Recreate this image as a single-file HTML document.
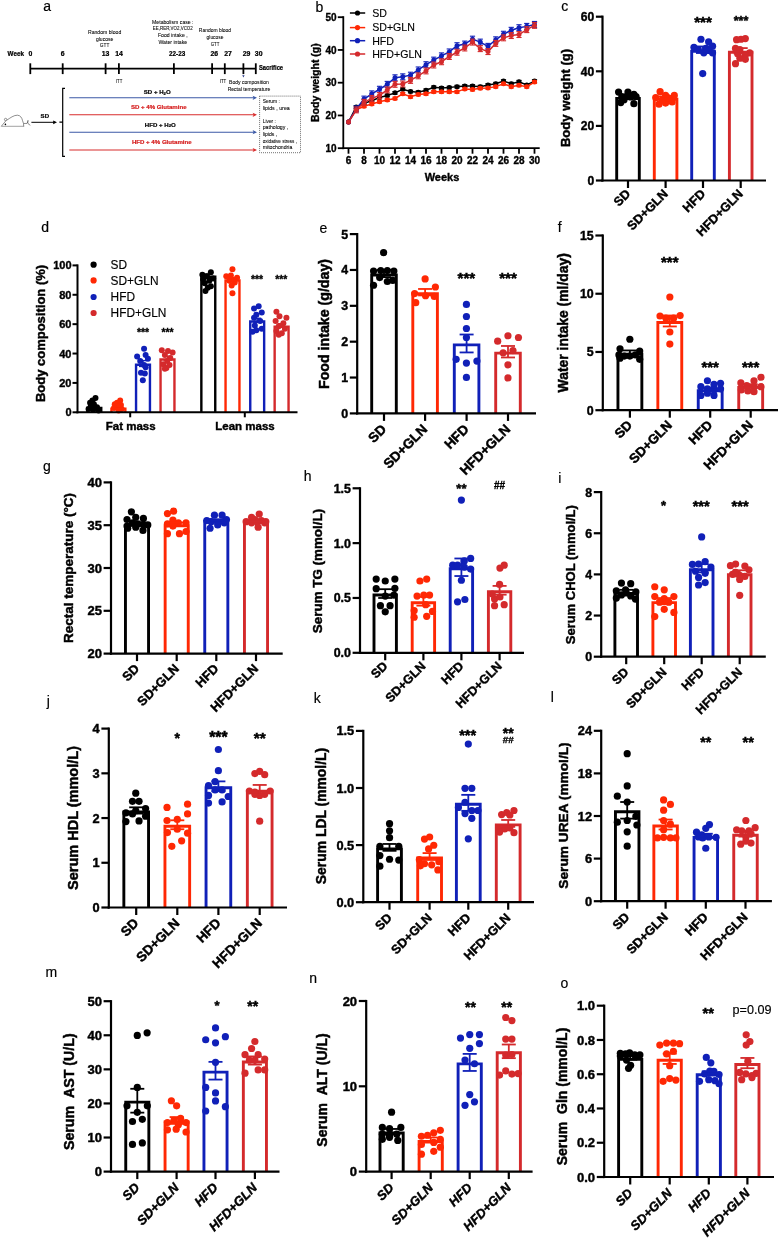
<!DOCTYPE html>
<html><head><meta charset="utf-8"><style>
html,body{margin:0;padding:0;background:#fff;}
svg{display:block;will-change:transform;}
text{font-family:"Liberation Sans",sans-serif;}
</style></head><body>
<svg width="778" height="1239" viewBox="0 0 778 1239">
<rect width="778" height="1239" fill="#fff"/>
<text x="47.20" y="10.60" font-size="14" stroke="#000" stroke-width="0.18" text-anchor="middle" fill="#000" >a</text>
<line x1="30.30" y1="68.70" x2="255.80" y2="68.70" stroke="#000" stroke-width="1.8" />
<line x1="30.30" y1="63.30" x2="30.30" y2="74.10" stroke="#000" stroke-width="1.8" />
<line x1="62.70" y1="63.30" x2="62.70" y2="74.10" stroke="#000" stroke-width="1.8" />
<line x1="105.60" y1="63.30" x2="105.60" y2="74.10" stroke="#000" stroke-width="1.8" />
<line x1="118.90" y1="63.30" x2="118.90" y2="74.10" stroke="#000" stroke-width="1.8" />
<line x1="173.90" y1="63.30" x2="173.90" y2="74.10" stroke="#000" stroke-width="1.8" />
<line x1="212.10" y1="63.30" x2="212.10" y2="74.10" stroke="#000" stroke-width="1.8" />
<line x1="224.80" y1="63.30" x2="224.80" y2="74.10" stroke="#000" stroke-width="1.8" />
<line x1="243.40" y1="63.30" x2="243.40" y2="74.10" stroke="#000" stroke-width="1.8" />
<line x1="255.80" y1="63.30" x2="255.80" y2="74.10" stroke="#000" stroke-width="1.8" />
<text x="15.75" y="56.40" font-size="7.2" font-weight="bold" stroke="#000" stroke-width="0.24" textLength="16.3" lengthAdjust="spacingAndGlyphs" text-anchor="middle" fill="#000" >Week</text>
<text x="30.30" y="56.40" font-size="6.9" font-weight="bold" stroke="#000" stroke-width="0.23" text-anchor="middle" fill="#000" >0</text>
<text x="62.70" y="56.40" font-size="6.9" font-weight="bold" stroke="#000" stroke-width="0.23" text-anchor="middle" fill="#000" >6</text>
<text x="105.60" y="56.40" font-size="6.9" font-weight="bold" stroke="#000" stroke-width="0.23" text-anchor="middle" fill="#000" >13</text>
<text x="119.10" y="56.40" font-size="6.9" font-weight="bold" stroke="#000" stroke-width="0.23" text-anchor="middle" fill="#000" >14</text>
<text x="214.30" y="56.40" font-size="6.9" font-weight="bold" stroke="#000" stroke-width="0.23" text-anchor="middle" fill="#000" >26</text>
<text x="228.00" y="56.40" font-size="6.9" font-weight="bold" stroke="#000" stroke-width="0.23" text-anchor="middle" fill="#000" >27</text>
<text x="246.60" y="56.40" font-size="6.9" font-weight="bold" stroke="#000" stroke-width="0.23" text-anchor="middle" fill="#000" >29</text>
<text x="258.70" y="56.40" font-size="6.9" font-weight="bold" stroke="#000" stroke-width="0.23" text-anchor="middle" fill="#000" >30</text>
<text x="177.10" y="56.40" font-size="6.9" font-weight="bold" stroke="#000" stroke-width="0.23" textLength="16.2" lengthAdjust="spacingAndGlyphs" text-anchor="middle" fill="#000" >22-23</text>
<text x="271.00" y="70.20" font-size="6.9" font-weight="bold" stroke="#000" stroke-width="0.23" textLength="24.2" lengthAdjust="spacingAndGlyphs" text-anchor="middle" fill="#000" >Sacrifice</text>
<text x="104.60" y="33.70" font-size="5.8" stroke="#000" stroke-width="0.07" textLength="33.3" lengthAdjust="spacingAndGlyphs" text-anchor="middle" fill="#000" >Random blood</text>
<text x="104.60" y="40.50" font-size="5.8" stroke="#000" stroke-width="0.07" textLength="17.3" lengthAdjust="spacingAndGlyphs" text-anchor="middle" fill="#000" >glucose</text>
<text x="104.60" y="47.20" font-size="5.8" stroke="#000" stroke-width="0.07" textLength="9.6" lengthAdjust="spacingAndGlyphs" text-anchor="middle" fill="#000" >GTT</text>
<text x="215.00" y="32.40" font-size="5.8" stroke="#000" stroke-width="0.07" textLength="32.3" lengthAdjust="spacingAndGlyphs" text-anchor="middle" fill="#000" >Random blood</text>
<text x="215.00" y="39.40" font-size="5.8" stroke="#000" stroke-width="0.07" textLength="16.8" lengthAdjust="spacingAndGlyphs" text-anchor="middle" fill="#000" >glucose</text>
<text x="215.00" y="46.20" font-size="5.8" stroke="#000" stroke-width="0.07" textLength="8.7" lengthAdjust="spacingAndGlyphs" text-anchor="middle" fill="#000" >GTT</text>
<text x="172.80" y="23.70" font-size="5.8" stroke="#000" stroke-width="0.07" textLength="41.5" lengthAdjust="spacingAndGlyphs" text-anchor="middle" fill="#000" >Metabolism case :</text>
<text x="172.80" y="30.20" font-size="5.8" stroke="#000" stroke-width="0.07" textLength="40" lengthAdjust="spacingAndGlyphs" text-anchor="middle" fill="#000" >EE,RER,VO2,VCO2</text>
<text x="172.80" y="36.80" font-size="5.8" stroke="#000" stroke-width="0.07" textLength="29.7" lengthAdjust="spacingAndGlyphs" text-anchor="middle" fill="#000" >Food intake ,</text>
<text x="172.80" y="43.80" font-size="5.8" stroke="#000" stroke-width="0.07" textLength="28.8" lengthAdjust="spacingAndGlyphs" text-anchor="middle" fill="#000" >Water intake</text>
<text x="119.10" y="83.20" font-size="5.8" stroke="#000" stroke-width="0.07" textLength="6.4" lengthAdjust="spacingAndGlyphs" text-anchor="middle" fill="#000" >ITT</text>
<text x="223.00" y="82.80" font-size="5.8" stroke="#000" stroke-width="0.07" textLength="6.6" lengthAdjust="spacingAndGlyphs" text-anchor="middle" fill="#000" >ITT</text>
<text x="249.00" y="83.80" font-size="5.8" stroke="#000" stroke-width="0.07" textLength="39.8" lengthAdjust="spacingAndGlyphs" text-anchor="middle" fill="#000" >Body composition</text>
<text x="249.00" y="90.70" font-size="5.8" stroke="#000" stroke-width="0.07" textLength="42.6" lengthAdjust="spacingAndGlyphs" text-anchor="middle" fill="#000" >Rectal temperature</text>
<path d="M242.2 75.2 L244.6 75.2 L243.4 77.6 Z" fill="#2b3a8a"/>
<path d="M65 88.4 L62.7 88.4 L62.7 156.3 L65 156.3 M62.7 122.2 L59.4 122.2" fill="none" stroke="#000" stroke-width="1.2"/>
<line x1="69.30" y1="97.80" x2="254.00" y2="97.80" stroke="#3b59a6" stroke-width="1.05" />
<path d="M257 97.8 L252.6 95.7 L253.6 97.8 L252.6 99.89999999999999 Z" fill="#3b59a6"/>
<line x1="69.30" y1="114.80" x2="254.00" y2="114.80" stroke="#d82c2c" stroke-width="1.05" />
<path d="M257 114.8 L252.6 112.7 L253.6 114.8 L252.6 116.89999999999999 Z" fill="#d82c2c"/>
<line x1="69.30" y1="132.20" x2="254.00" y2="132.20" stroke="#3b59a6" stroke-width="1.05" />
<path d="M257 132.2 L252.6 130.1 L253.6 132.2 L252.6 134.29999999999998 Z" fill="#3b59a6"/>
<line x1="69.30" y1="150.00" x2="254.00" y2="150.00" stroke="#d82c2c" stroke-width="1.05" />
<path d="M257 150.0 L252.6 147.9 L253.6 150.0 L252.6 152.1 Z" fill="#d82c2c"/>
<text x="157.20" y="94.00" font-size="6.1" font-weight="bold" stroke="#000" stroke-width="0.20" text-anchor="middle" fill="#000" >SD + H<tspan font-size="4.2" dy="0.6">2</tspan><tspan dy="-0.6">O</tspan></text>
<text x="158.75" y="109.30" font-size="6.1" font-weight="bold" stroke="#d62020" stroke-width="0.20" text-anchor="middle" fill="#d62020" >SD + 4% Glutamine</text>
<text x="160.30" y="126.60" font-size="6.1" font-weight="bold" stroke="#000" stroke-width="0.20" text-anchor="middle" fill="#000" >HFD + H<tspan font-size="4.2" dy="0.6">2</tspan><tspan dy="-0.6">O</tspan></text>
<text x="161.80" y="144.10" font-size="6.1" font-weight="bold" stroke="#d62020" stroke-width="0.20" text-anchor="middle" fill="#d62020" >HFD + 4% Glutamine</text>
<line x1="31.40" y1="122.30" x2="54.50" y2="122.30" stroke="#000" stroke-width="1.0" />
<path d="M57 122.3 L53.2 120.4 L53.2 124.2 Z" fill="#000"/>
<text x="44.80" y="117.60" font-size="6.1" font-weight="bold" stroke="#000" stroke-width="0.20" text-anchor="middle" fill="#000" >SD</text>
<path d="M1.3 126.3 L24.2 126.3" stroke="#999" stroke-width="0.9"/>
<path d="M1.3 126.3 L6 120.6 M6.8 120.2 C10 118 14 115 17.5 115.2 C20.5 115.4 22 118 22.5 120.5 L23.5 123.5 L23.7 126.3 M23.7 123.5 L27 123.4 Q28.6 121 28 120.4 Q27.1 121 28 123.6 L30.3 125.3" fill="none" stroke="#333" stroke-width="0.55"/>
<circle cx="5.6" cy="119.5" r="1.2" fill="none" stroke="#333" stroke-width="0.5"/>
<circle cx="5.40" cy="124.40" r="0.8" fill="#000"/>
<rect x="259.6" y="96.1" width="40.9" height="56.6" fill="none" stroke="#333" stroke-width="0.7" stroke-dasharray="1,1"/>
<text x="262.70" y="103.40" font-size="5.5" stroke="#000" stroke-width="0.07" textLength="17.3" lengthAdjust="spacingAndGlyphs" text-anchor="start" fill="#000" >Serum :</text>
<text x="262.70" y="109.50" font-size="5.5" stroke="#000" stroke-width="0.07" textLength="27.1" lengthAdjust="spacingAndGlyphs" text-anchor="start" fill="#000" >lipids , urea</text>
<text x="262.70" y="122.70" font-size="5.5" stroke="#000" stroke-width="0.07" textLength="13.2" lengthAdjust="spacingAndGlyphs" text-anchor="start" fill="#000" >Liver :</text>
<text x="262.70" y="129.10" font-size="5.5" stroke="#000" stroke-width="0.07" textLength="25.5" lengthAdjust="spacingAndGlyphs" text-anchor="start" fill="#000" >pathology ,</text>
<text x="262.70" y="135.90" font-size="5.5" stroke="#000" stroke-width="0.07" textLength="14.4" lengthAdjust="spacingAndGlyphs" text-anchor="start" fill="#000" >lipids ,</text>
<text x="262.70" y="142.60" font-size="5.5" stroke="#000" stroke-width="0.07" textLength="34.3" lengthAdjust="spacingAndGlyphs" text-anchor="start" fill="#000" >oxidative stress ,</text>
<text x="262.70" y="149.40" font-size="5.5" stroke="#000" stroke-width="0.07" textLength="29.6" lengthAdjust="spacingAndGlyphs" text-anchor="start" fill="#000" >mitochondria</text>
<polyline points="348.50,122.00 356.25,106.93 364.00,103.33 371.75,100.71 379.50,97.44 387.25,95.47 395.00,92.85 402.75,89.25 410.50,91.54 418.25,92.20 426.00,90.23 433.75,87.28 441.50,87.94 449.25,87.61 457.00,86.63 464.75,85.97 472.50,85.97 480.25,86.63 488.00,84.99 495.75,83.68 503.50,81.06 511.25,83.68 519.00,81.72 526.75,84.99 534.50,81.06" fill="none" stroke="#000000" stroke-width="1.5"/>
<line x1="356.25" y1="105.62" x2="356.25" y2="108.24" stroke="#000000" stroke-width="1.1" />
<line x1="353.65" y1="105.62" x2="358.85" y2="105.62" stroke="#000000" stroke-width="1.1" />
<line x1="353.65" y1="108.24" x2="358.85" y2="108.24" stroke="#000000" stroke-width="1.1" />
<line x1="364.00" y1="102.02" x2="364.00" y2="104.64" stroke="#000000" stroke-width="1.1" />
<line x1="361.40" y1="102.02" x2="366.60" y2="102.02" stroke="#000000" stroke-width="1.1" />
<line x1="361.40" y1="104.64" x2="366.60" y2="104.64" stroke="#000000" stroke-width="1.1" />
<line x1="371.75" y1="99.40" x2="371.75" y2="102.02" stroke="#000000" stroke-width="1.1" />
<line x1="369.15" y1="99.40" x2="374.35" y2="99.40" stroke="#000000" stroke-width="1.1" />
<line x1="369.15" y1="102.02" x2="374.35" y2="102.02" stroke="#000000" stroke-width="1.1" />
<line x1="379.50" y1="96.13" x2="379.50" y2="98.75" stroke="#000000" stroke-width="1.1" />
<line x1="376.90" y1="96.13" x2="382.10" y2="96.13" stroke="#000000" stroke-width="1.1" />
<line x1="376.90" y1="98.75" x2="382.10" y2="98.75" stroke="#000000" stroke-width="1.1" />
<line x1="387.25" y1="94.16" x2="387.25" y2="96.78" stroke="#000000" stroke-width="1.1" />
<line x1="384.65" y1="94.16" x2="389.85" y2="94.16" stroke="#000000" stroke-width="1.1" />
<line x1="384.65" y1="96.78" x2="389.85" y2="96.78" stroke="#000000" stroke-width="1.1" />
<line x1="395.00" y1="91.54" x2="395.00" y2="94.16" stroke="#000000" stroke-width="1.1" />
<line x1="392.40" y1="91.54" x2="397.60" y2="91.54" stroke="#000000" stroke-width="1.1" />
<line x1="392.40" y1="94.16" x2="397.60" y2="94.16" stroke="#000000" stroke-width="1.1" />
<line x1="402.75" y1="87.94" x2="402.75" y2="90.56" stroke="#000000" stroke-width="1.1" />
<line x1="400.15" y1="87.94" x2="405.35" y2="87.94" stroke="#000000" stroke-width="1.1" />
<line x1="400.15" y1="90.56" x2="405.35" y2="90.56" stroke="#000000" stroke-width="1.1" />
<line x1="410.50" y1="90.23" x2="410.50" y2="92.85" stroke="#000000" stroke-width="1.1" />
<line x1="407.90" y1="90.23" x2="413.10" y2="90.23" stroke="#000000" stroke-width="1.1" />
<line x1="407.90" y1="92.85" x2="413.10" y2="92.85" stroke="#000000" stroke-width="1.1" />
<line x1="418.25" y1="90.89" x2="418.25" y2="93.51" stroke="#000000" stroke-width="1.1" />
<line x1="415.65" y1="90.89" x2="420.85" y2="90.89" stroke="#000000" stroke-width="1.1" />
<line x1="415.65" y1="93.51" x2="420.85" y2="93.51" stroke="#000000" stroke-width="1.1" />
<line x1="426.00" y1="88.92" x2="426.00" y2="91.54" stroke="#000000" stroke-width="1.1" />
<line x1="423.40" y1="88.92" x2="428.60" y2="88.92" stroke="#000000" stroke-width="1.1" />
<line x1="423.40" y1="91.54" x2="428.60" y2="91.54" stroke="#000000" stroke-width="1.1" />
<line x1="433.75" y1="85.97" x2="433.75" y2="88.59" stroke="#000000" stroke-width="1.1" />
<line x1="431.15" y1="85.97" x2="436.35" y2="85.97" stroke="#000000" stroke-width="1.1" />
<line x1="431.15" y1="88.59" x2="436.35" y2="88.59" stroke="#000000" stroke-width="1.1" />
<line x1="441.50" y1="86.63" x2="441.50" y2="89.25" stroke="#000000" stroke-width="1.1" />
<line x1="438.90" y1="86.63" x2="444.10" y2="86.63" stroke="#000000" stroke-width="1.1" />
<line x1="438.90" y1="89.25" x2="444.10" y2="89.25" stroke="#000000" stroke-width="1.1" />
<line x1="449.25" y1="86.30" x2="449.25" y2="88.92" stroke="#000000" stroke-width="1.1" />
<line x1="446.65" y1="86.30" x2="451.85" y2="86.30" stroke="#000000" stroke-width="1.1" />
<line x1="446.65" y1="88.92" x2="451.85" y2="88.92" stroke="#000000" stroke-width="1.1" />
<line x1="457.00" y1="85.32" x2="457.00" y2="87.94" stroke="#000000" stroke-width="1.1" />
<line x1="454.40" y1="85.32" x2="459.60" y2="85.32" stroke="#000000" stroke-width="1.1" />
<line x1="454.40" y1="87.94" x2="459.60" y2="87.94" stroke="#000000" stroke-width="1.1" />
<line x1="464.75" y1="84.66" x2="464.75" y2="87.28" stroke="#000000" stroke-width="1.1" />
<line x1="462.15" y1="84.66" x2="467.35" y2="84.66" stroke="#000000" stroke-width="1.1" />
<line x1="462.15" y1="87.28" x2="467.35" y2="87.28" stroke="#000000" stroke-width="1.1" />
<line x1="472.50" y1="84.66" x2="472.50" y2="87.28" stroke="#000000" stroke-width="1.1" />
<line x1="469.90" y1="84.66" x2="475.10" y2="84.66" stroke="#000000" stroke-width="1.1" />
<line x1="469.90" y1="87.28" x2="475.10" y2="87.28" stroke="#000000" stroke-width="1.1" />
<line x1="480.25" y1="85.32" x2="480.25" y2="87.94" stroke="#000000" stroke-width="1.1" />
<line x1="477.65" y1="85.32" x2="482.85" y2="85.32" stroke="#000000" stroke-width="1.1" />
<line x1="477.65" y1="87.94" x2="482.85" y2="87.94" stroke="#000000" stroke-width="1.1" />
<line x1="488.00" y1="83.68" x2="488.00" y2="86.30" stroke="#000000" stroke-width="1.1" />
<line x1="485.40" y1="83.68" x2="490.60" y2="83.68" stroke="#000000" stroke-width="1.1" />
<line x1="485.40" y1="86.30" x2="490.60" y2="86.30" stroke="#000000" stroke-width="1.1" />
<line x1="495.75" y1="82.37" x2="495.75" y2="84.99" stroke="#000000" stroke-width="1.1" />
<line x1="493.15" y1="82.37" x2="498.35" y2="82.37" stroke="#000000" stroke-width="1.1" />
<line x1="493.15" y1="84.99" x2="498.35" y2="84.99" stroke="#000000" stroke-width="1.1" />
<line x1="503.50" y1="79.75" x2="503.50" y2="82.37" stroke="#000000" stroke-width="1.1" />
<line x1="500.90" y1="79.75" x2="506.10" y2="79.75" stroke="#000000" stroke-width="1.1" />
<line x1="500.90" y1="82.37" x2="506.10" y2="82.37" stroke="#000000" stroke-width="1.1" />
<line x1="511.25" y1="82.37" x2="511.25" y2="84.99" stroke="#000000" stroke-width="1.1" />
<line x1="508.65" y1="82.37" x2="513.85" y2="82.37" stroke="#000000" stroke-width="1.1" />
<line x1="508.65" y1="84.99" x2="513.85" y2="84.99" stroke="#000000" stroke-width="1.1" />
<line x1="519.00" y1="80.41" x2="519.00" y2="83.03" stroke="#000000" stroke-width="1.1" />
<line x1="516.40" y1="80.41" x2="521.60" y2="80.41" stroke="#000000" stroke-width="1.1" />
<line x1="516.40" y1="83.03" x2="521.60" y2="83.03" stroke="#000000" stroke-width="1.1" />
<line x1="526.75" y1="83.68" x2="526.75" y2="86.30" stroke="#000000" stroke-width="1.1" />
<line x1="524.15" y1="83.68" x2="529.35" y2="83.68" stroke="#000000" stroke-width="1.1" />
<line x1="524.15" y1="86.30" x2="529.35" y2="86.30" stroke="#000000" stroke-width="1.1" />
<line x1="534.50" y1="79.75" x2="534.50" y2="82.37" stroke="#000000" stroke-width="1.1" />
<line x1="531.90" y1="79.75" x2="537.10" y2="79.75" stroke="#000000" stroke-width="1.1" />
<line x1="531.90" y1="82.37" x2="537.10" y2="82.37" stroke="#000000" stroke-width="1.1" />
<circle cx="348.50" cy="122.00" r="2.5" fill="#000000"/>
<circle cx="356.25" cy="106.93" r="2.5" fill="#000000"/>
<circle cx="364.00" cy="103.33" r="2.5" fill="#000000"/>
<circle cx="371.75" cy="100.71" r="2.5" fill="#000000"/>
<circle cx="379.50" cy="97.44" r="2.5" fill="#000000"/>
<circle cx="387.25" cy="95.47" r="2.5" fill="#000000"/>
<circle cx="395.00" cy="92.85" r="2.5" fill="#000000"/>
<circle cx="402.75" cy="89.25" r="2.5" fill="#000000"/>
<circle cx="410.50" cy="91.54" r="2.5" fill="#000000"/>
<circle cx="418.25" cy="92.20" r="2.5" fill="#000000"/>
<circle cx="426.00" cy="90.23" r="2.5" fill="#000000"/>
<circle cx="433.75" cy="87.28" r="2.5" fill="#000000"/>
<circle cx="441.50" cy="87.94" r="2.5" fill="#000000"/>
<circle cx="449.25" cy="87.61" r="2.5" fill="#000000"/>
<circle cx="457.00" cy="86.63" r="2.5" fill="#000000"/>
<circle cx="464.75" cy="85.97" r="2.5" fill="#000000"/>
<circle cx="472.50" cy="85.97" r="2.5" fill="#000000"/>
<circle cx="480.25" cy="86.63" r="2.5" fill="#000000"/>
<circle cx="488.00" cy="84.99" r="2.5" fill="#000000"/>
<circle cx="495.75" cy="83.68" r="2.5" fill="#000000"/>
<circle cx="503.50" cy="81.06" r="2.5" fill="#000000"/>
<circle cx="511.25" cy="83.68" r="2.5" fill="#000000"/>
<circle cx="519.00" cy="81.72" r="2.5" fill="#000000"/>
<circle cx="526.75" cy="84.99" r="2.5" fill="#000000"/>
<circle cx="534.50" cy="81.06" r="2.5" fill="#000000"/>
<polyline points="348.50,122.00 356.25,109.88 364.00,106.28 371.75,103.99 379.50,101.69 387.25,100.06 395.00,98.42 402.75,93.83 410.50,96.78 418.25,94.49 426.00,93.83 433.75,91.87 441.50,91.87 449.25,91.87 457.00,91.87 464.75,88.92 472.50,89.58 480.25,88.27 488.00,87.94 495.75,86.63 503.50,83.68 511.25,86.63 519.00,85.32 526.75,86.63 534.50,82.04" fill="none" stroke="#ff2804" stroke-width="1.5"/>
<line x1="356.25" y1="108.57" x2="356.25" y2="111.19" stroke="#ff2804" stroke-width="1.1" />
<line x1="353.65" y1="108.57" x2="358.85" y2="108.57" stroke="#ff2804" stroke-width="1.1" />
<line x1="353.65" y1="111.19" x2="358.85" y2="111.19" stroke="#ff2804" stroke-width="1.1" />
<line x1="364.00" y1="104.97" x2="364.00" y2="107.59" stroke="#ff2804" stroke-width="1.1" />
<line x1="361.40" y1="104.97" x2="366.60" y2="104.97" stroke="#ff2804" stroke-width="1.1" />
<line x1="361.40" y1="107.59" x2="366.60" y2="107.59" stroke="#ff2804" stroke-width="1.1" />
<line x1="371.75" y1="102.68" x2="371.75" y2="105.30" stroke="#ff2804" stroke-width="1.1" />
<line x1="369.15" y1="102.68" x2="374.35" y2="102.68" stroke="#ff2804" stroke-width="1.1" />
<line x1="369.15" y1="105.30" x2="374.35" y2="105.30" stroke="#ff2804" stroke-width="1.1" />
<line x1="379.50" y1="100.38" x2="379.50" y2="103.00" stroke="#ff2804" stroke-width="1.1" />
<line x1="376.90" y1="100.38" x2="382.10" y2="100.38" stroke="#ff2804" stroke-width="1.1" />
<line x1="376.90" y1="103.00" x2="382.10" y2="103.00" stroke="#ff2804" stroke-width="1.1" />
<line x1="387.25" y1="98.75" x2="387.25" y2="101.37" stroke="#ff2804" stroke-width="1.1" />
<line x1="384.65" y1="98.75" x2="389.85" y2="98.75" stroke="#ff2804" stroke-width="1.1" />
<line x1="384.65" y1="101.37" x2="389.85" y2="101.37" stroke="#ff2804" stroke-width="1.1" />
<line x1="395.00" y1="97.11" x2="395.00" y2="99.73" stroke="#ff2804" stroke-width="1.1" />
<line x1="392.40" y1="97.11" x2="397.60" y2="97.11" stroke="#ff2804" stroke-width="1.1" />
<line x1="392.40" y1="99.73" x2="397.60" y2="99.73" stroke="#ff2804" stroke-width="1.1" />
<line x1="402.75" y1="92.52" x2="402.75" y2="95.14" stroke="#ff2804" stroke-width="1.1" />
<line x1="400.15" y1="92.52" x2="405.35" y2="92.52" stroke="#ff2804" stroke-width="1.1" />
<line x1="400.15" y1="95.14" x2="405.35" y2="95.14" stroke="#ff2804" stroke-width="1.1" />
<line x1="410.50" y1="95.47" x2="410.50" y2="98.09" stroke="#ff2804" stroke-width="1.1" />
<line x1="407.90" y1="95.47" x2="413.10" y2="95.47" stroke="#ff2804" stroke-width="1.1" />
<line x1="407.90" y1="98.09" x2="413.10" y2="98.09" stroke="#ff2804" stroke-width="1.1" />
<line x1="418.25" y1="93.18" x2="418.25" y2="95.80" stroke="#ff2804" stroke-width="1.1" />
<line x1="415.65" y1="93.18" x2="420.85" y2="93.18" stroke="#ff2804" stroke-width="1.1" />
<line x1="415.65" y1="95.80" x2="420.85" y2="95.80" stroke="#ff2804" stroke-width="1.1" />
<line x1="426.00" y1="92.52" x2="426.00" y2="95.14" stroke="#ff2804" stroke-width="1.1" />
<line x1="423.40" y1="92.52" x2="428.60" y2="92.52" stroke="#ff2804" stroke-width="1.1" />
<line x1="423.40" y1="95.14" x2="428.60" y2="95.14" stroke="#ff2804" stroke-width="1.1" />
<line x1="433.75" y1="90.56" x2="433.75" y2="93.18" stroke="#ff2804" stroke-width="1.1" />
<line x1="431.15" y1="90.56" x2="436.35" y2="90.56" stroke="#ff2804" stroke-width="1.1" />
<line x1="431.15" y1="93.18" x2="436.35" y2="93.18" stroke="#ff2804" stroke-width="1.1" />
<line x1="441.50" y1="90.56" x2="441.50" y2="93.18" stroke="#ff2804" stroke-width="1.1" />
<line x1="438.90" y1="90.56" x2="444.10" y2="90.56" stroke="#ff2804" stroke-width="1.1" />
<line x1="438.90" y1="93.18" x2="444.10" y2="93.18" stroke="#ff2804" stroke-width="1.1" />
<line x1="449.25" y1="90.56" x2="449.25" y2="93.18" stroke="#ff2804" stroke-width="1.1" />
<line x1="446.65" y1="90.56" x2="451.85" y2="90.56" stroke="#ff2804" stroke-width="1.1" />
<line x1="446.65" y1="93.18" x2="451.85" y2="93.18" stroke="#ff2804" stroke-width="1.1" />
<line x1="457.00" y1="90.56" x2="457.00" y2="93.18" stroke="#ff2804" stroke-width="1.1" />
<line x1="454.40" y1="90.56" x2="459.60" y2="90.56" stroke="#ff2804" stroke-width="1.1" />
<line x1="454.40" y1="93.18" x2="459.60" y2="93.18" stroke="#ff2804" stroke-width="1.1" />
<line x1="464.75" y1="87.61" x2="464.75" y2="90.23" stroke="#ff2804" stroke-width="1.1" />
<line x1="462.15" y1="87.61" x2="467.35" y2="87.61" stroke="#ff2804" stroke-width="1.1" />
<line x1="462.15" y1="90.23" x2="467.35" y2="90.23" stroke="#ff2804" stroke-width="1.1" />
<line x1="472.50" y1="88.27" x2="472.50" y2="90.89" stroke="#ff2804" stroke-width="1.1" />
<line x1="469.90" y1="88.27" x2="475.10" y2="88.27" stroke="#ff2804" stroke-width="1.1" />
<line x1="469.90" y1="90.89" x2="475.10" y2="90.89" stroke="#ff2804" stroke-width="1.1" />
<line x1="480.25" y1="86.96" x2="480.25" y2="89.58" stroke="#ff2804" stroke-width="1.1" />
<line x1="477.65" y1="86.96" x2="482.85" y2="86.96" stroke="#ff2804" stroke-width="1.1" />
<line x1="477.65" y1="89.58" x2="482.85" y2="89.58" stroke="#ff2804" stroke-width="1.1" />
<line x1="488.00" y1="86.63" x2="488.00" y2="89.25" stroke="#ff2804" stroke-width="1.1" />
<line x1="485.40" y1="86.63" x2="490.60" y2="86.63" stroke="#ff2804" stroke-width="1.1" />
<line x1="485.40" y1="89.25" x2="490.60" y2="89.25" stroke="#ff2804" stroke-width="1.1" />
<line x1="495.75" y1="85.32" x2="495.75" y2="87.94" stroke="#ff2804" stroke-width="1.1" />
<line x1="493.15" y1="85.32" x2="498.35" y2="85.32" stroke="#ff2804" stroke-width="1.1" />
<line x1="493.15" y1="87.94" x2="498.35" y2="87.94" stroke="#ff2804" stroke-width="1.1" />
<line x1="503.50" y1="82.37" x2="503.50" y2="84.99" stroke="#ff2804" stroke-width="1.1" />
<line x1="500.90" y1="82.37" x2="506.10" y2="82.37" stroke="#ff2804" stroke-width="1.1" />
<line x1="500.90" y1="84.99" x2="506.10" y2="84.99" stroke="#ff2804" stroke-width="1.1" />
<line x1="511.25" y1="85.32" x2="511.25" y2="87.94" stroke="#ff2804" stroke-width="1.1" />
<line x1="508.65" y1="85.32" x2="513.85" y2="85.32" stroke="#ff2804" stroke-width="1.1" />
<line x1="508.65" y1="87.94" x2="513.85" y2="87.94" stroke="#ff2804" stroke-width="1.1" />
<line x1="519.00" y1="84.01" x2="519.00" y2="86.63" stroke="#ff2804" stroke-width="1.1" />
<line x1="516.40" y1="84.01" x2="521.60" y2="84.01" stroke="#ff2804" stroke-width="1.1" />
<line x1="516.40" y1="86.63" x2="521.60" y2="86.63" stroke="#ff2804" stroke-width="1.1" />
<line x1="526.75" y1="85.32" x2="526.75" y2="87.94" stroke="#ff2804" stroke-width="1.1" />
<line x1="524.15" y1="85.32" x2="529.35" y2="85.32" stroke="#ff2804" stroke-width="1.1" />
<line x1="524.15" y1="87.94" x2="529.35" y2="87.94" stroke="#ff2804" stroke-width="1.1" />
<line x1="534.50" y1="80.73" x2="534.50" y2="83.35" stroke="#ff2804" stroke-width="1.1" />
<line x1="531.90" y1="80.73" x2="537.10" y2="80.73" stroke="#ff2804" stroke-width="1.1" />
<line x1="531.90" y1="83.35" x2="537.10" y2="83.35" stroke="#ff2804" stroke-width="1.1" />
<circle cx="348.50" cy="122.00" r="2.5" fill="#ff2804"/>
<circle cx="356.25" cy="109.88" r="2.5" fill="#ff2804"/>
<circle cx="364.00" cy="106.28" r="2.5" fill="#ff2804"/>
<circle cx="371.75" cy="103.99" r="2.5" fill="#ff2804"/>
<circle cx="379.50" cy="101.69" r="2.5" fill="#ff2804"/>
<circle cx="387.25" cy="100.06" r="2.5" fill="#ff2804"/>
<circle cx="395.00" cy="98.42" r="2.5" fill="#ff2804"/>
<circle cx="402.75" cy="93.83" r="2.5" fill="#ff2804"/>
<circle cx="410.50" cy="96.78" r="2.5" fill="#ff2804"/>
<circle cx="418.25" cy="94.49" r="2.5" fill="#ff2804"/>
<circle cx="426.00" cy="93.83" r="2.5" fill="#ff2804"/>
<circle cx="433.75" cy="91.87" r="2.5" fill="#ff2804"/>
<circle cx="441.50" cy="91.87" r="2.5" fill="#ff2804"/>
<circle cx="449.25" cy="91.87" r="2.5" fill="#ff2804"/>
<circle cx="457.00" cy="91.87" r="2.5" fill="#ff2804"/>
<circle cx="464.75" cy="88.92" r="2.5" fill="#ff2804"/>
<circle cx="472.50" cy="89.58" r="2.5" fill="#ff2804"/>
<circle cx="480.25" cy="88.27" r="2.5" fill="#ff2804"/>
<circle cx="488.00" cy="87.94" r="2.5" fill="#ff2804"/>
<circle cx="495.75" cy="86.63" r="2.5" fill="#ff2804"/>
<circle cx="503.50" cy="83.68" r="2.5" fill="#ff2804"/>
<circle cx="511.25" cy="86.63" r="2.5" fill="#ff2804"/>
<circle cx="519.00" cy="85.32" r="2.5" fill="#ff2804"/>
<circle cx="526.75" cy="86.63" r="2.5" fill="#ff2804"/>
<circle cx="534.50" cy="82.04" r="2.5" fill="#ff2804"/>
<polyline points="348.50,122.00 356.25,108.90 364.00,99.07 371.75,93.83 379.50,89.25 387.25,84.34 395.00,77.79 402.75,76.80 410.50,75.17 418.25,69.93 426.00,64.69 433.75,60.10 441.50,55.84 449.25,51.91 457.00,45.69 464.75,44.05 472.50,39.14 480.25,42.09 488.00,46.35 495.75,39.80 503.50,34.23 511.25,30.30 519.00,27.68 526.75,26.37 534.50,24.41" fill="none" stroke="#1020b8" stroke-width="1.5"/>
<line x1="356.25" y1="105.95" x2="356.25" y2="111.85" stroke="#1020b8" stroke-width="1.1" />
<line x1="353.65" y1="105.95" x2="358.85" y2="105.95" stroke="#1020b8" stroke-width="1.1" />
<line x1="353.65" y1="111.85" x2="358.85" y2="111.85" stroke="#1020b8" stroke-width="1.1" />
<line x1="364.00" y1="96.13" x2="364.00" y2="102.02" stroke="#1020b8" stroke-width="1.1" />
<line x1="361.40" y1="96.13" x2="366.60" y2="96.13" stroke="#1020b8" stroke-width="1.1" />
<line x1="361.40" y1="102.02" x2="366.60" y2="102.02" stroke="#1020b8" stroke-width="1.1" />
<line x1="371.75" y1="90.89" x2="371.75" y2="96.78" stroke="#1020b8" stroke-width="1.1" />
<line x1="369.15" y1="90.89" x2="374.35" y2="90.89" stroke="#1020b8" stroke-width="1.1" />
<line x1="369.15" y1="96.78" x2="374.35" y2="96.78" stroke="#1020b8" stroke-width="1.1" />
<line x1="379.50" y1="86.30" x2="379.50" y2="92.20" stroke="#1020b8" stroke-width="1.1" />
<line x1="376.90" y1="86.30" x2="382.10" y2="86.30" stroke="#1020b8" stroke-width="1.1" />
<line x1="376.90" y1="92.20" x2="382.10" y2="92.20" stroke="#1020b8" stroke-width="1.1" />
<line x1="387.25" y1="81.39" x2="387.25" y2="87.28" stroke="#1020b8" stroke-width="1.1" />
<line x1="384.65" y1="81.39" x2="389.85" y2="81.39" stroke="#1020b8" stroke-width="1.1" />
<line x1="384.65" y1="87.28" x2="389.85" y2="87.28" stroke="#1020b8" stroke-width="1.1" />
<line x1="395.00" y1="74.84" x2="395.00" y2="80.73" stroke="#1020b8" stroke-width="1.1" />
<line x1="392.40" y1="74.84" x2="397.60" y2="74.84" stroke="#1020b8" stroke-width="1.1" />
<line x1="392.40" y1="80.73" x2="397.60" y2="80.73" stroke="#1020b8" stroke-width="1.1" />
<line x1="402.75" y1="73.86" x2="402.75" y2="79.75" stroke="#1020b8" stroke-width="1.1" />
<line x1="400.15" y1="73.86" x2="405.35" y2="73.86" stroke="#1020b8" stroke-width="1.1" />
<line x1="400.15" y1="79.75" x2="405.35" y2="79.75" stroke="#1020b8" stroke-width="1.1" />
<line x1="410.50" y1="72.22" x2="410.50" y2="78.11" stroke="#1020b8" stroke-width="1.1" />
<line x1="407.90" y1="72.22" x2="413.10" y2="72.22" stroke="#1020b8" stroke-width="1.1" />
<line x1="407.90" y1="78.11" x2="413.10" y2="78.11" stroke="#1020b8" stroke-width="1.1" />
<line x1="418.25" y1="66.98" x2="418.25" y2="72.88" stroke="#1020b8" stroke-width="1.1" />
<line x1="415.65" y1="66.98" x2="420.85" y2="66.98" stroke="#1020b8" stroke-width="1.1" />
<line x1="415.65" y1="72.88" x2="420.85" y2="72.88" stroke="#1020b8" stroke-width="1.1" />
<line x1="426.00" y1="61.74" x2="426.00" y2="67.63" stroke="#1020b8" stroke-width="1.1" />
<line x1="423.40" y1="61.74" x2="428.60" y2="61.74" stroke="#1020b8" stroke-width="1.1" />
<line x1="423.40" y1="67.63" x2="428.60" y2="67.63" stroke="#1020b8" stroke-width="1.1" />
<line x1="433.75" y1="57.16" x2="433.75" y2="63.05" stroke="#1020b8" stroke-width="1.1" />
<line x1="431.15" y1="57.16" x2="436.35" y2="57.16" stroke="#1020b8" stroke-width="1.1" />
<line x1="431.15" y1="63.05" x2="436.35" y2="63.05" stroke="#1020b8" stroke-width="1.1" />
<line x1="441.50" y1="52.90" x2="441.50" y2="58.79" stroke="#1020b8" stroke-width="1.1" />
<line x1="438.90" y1="52.90" x2="444.10" y2="52.90" stroke="#1020b8" stroke-width="1.1" />
<line x1="438.90" y1="58.79" x2="444.10" y2="58.79" stroke="#1020b8" stroke-width="1.1" />
<line x1="449.25" y1="48.97" x2="449.25" y2="54.86" stroke="#1020b8" stroke-width="1.1" />
<line x1="446.65" y1="48.97" x2="451.85" y2="48.97" stroke="#1020b8" stroke-width="1.1" />
<line x1="446.65" y1="54.86" x2="451.85" y2="54.86" stroke="#1020b8" stroke-width="1.1" />
<line x1="457.00" y1="42.74" x2="457.00" y2="48.64" stroke="#1020b8" stroke-width="1.1" />
<line x1="454.40" y1="42.74" x2="459.60" y2="42.74" stroke="#1020b8" stroke-width="1.1" />
<line x1="454.40" y1="48.64" x2="459.60" y2="48.64" stroke="#1020b8" stroke-width="1.1" />
<line x1="464.75" y1="41.11" x2="464.75" y2="47.00" stroke="#1020b8" stroke-width="1.1" />
<line x1="462.15" y1="41.11" x2="467.35" y2="41.11" stroke="#1020b8" stroke-width="1.1" />
<line x1="462.15" y1="47.00" x2="467.35" y2="47.00" stroke="#1020b8" stroke-width="1.1" />
<line x1="472.50" y1="36.20" x2="472.50" y2="42.09" stroke="#1020b8" stroke-width="1.1" />
<line x1="469.90" y1="36.20" x2="475.10" y2="36.20" stroke="#1020b8" stroke-width="1.1" />
<line x1="469.90" y1="42.09" x2="475.10" y2="42.09" stroke="#1020b8" stroke-width="1.1" />
<line x1="480.25" y1="39.14" x2="480.25" y2="45.04" stroke="#1020b8" stroke-width="1.1" />
<line x1="477.65" y1="39.14" x2="482.85" y2="39.14" stroke="#1020b8" stroke-width="1.1" />
<line x1="477.65" y1="45.04" x2="482.85" y2="45.04" stroke="#1020b8" stroke-width="1.1" />
<line x1="488.00" y1="43.40" x2="488.00" y2="49.29" stroke="#1020b8" stroke-width="1.1" />
<line x1="485.40" y1="43.40" x2="490.60" y2="43.40" stroke="#1020b8" stroke-width="1.1" />
<line x1="485.40" y1="49.29" x2="490.60" y2="49.29" stroke="#1020b8" stroke-width="1.1" />
<line x1="495.75" y1="36.85" x2="495.75" y2="42.74" stroke="#1020b8" stroke-width="1.1" />
<line x1="493.15" y1="36.85" x2="498.35" y2="36.85" stroke="#1020b8" stroke-width="1.1" />
<line x1="493.15" y1="42.74" x2="498.35" y2="42.74" stroke="#1020b8" stroke-width="1.1" />
<line x1="503.50" y1="31.28" x2="503.50" y2="37.18" stroke="#1020b8" stroke-width="1.1" />
<line x1="500.90" y1="31.28" x2="506.10" y2="31.28" stroke="#1020b8" stroke-width="1.1" />
<line x1="500.90" y1="37.18" x2="506.10" y2="37.18" stroke="#1020b8" stroke-width="1.1" />
<line x1="511.25" y1="27.35" x2="511.25" y2="33.25" stroke="#1020b8" stroke-width="1.1" />
<line x1="508.65" y1="27.35" x2="513.85" y2="27.35" stroke="#1020b8" stroke-width="1.1" />
<line x1="508.65" y1="33.25" x2="513.85" y2="33.25" stroke="#1020b8" stroke-width="1.1" />
<line x1="519.00" y1="24.73" x2="519.00" y2="30.63" stroke="#1020b8" stroke-width="1.1" />
<line x1="516.40" y1="24.73" x2="521.60" y2="24.73" stroke="#1020b8" stroke-width="1.1" />
<line x1="516.40" y1="30.63" x2="521.60" y2="30.63" stroke="#1020b8" stroke-width="1.1" />
<line x1="526.75" y1="23.42" x2="526.75" y2="29.32" stroke="#1020b8" stroke-width="1.1" />
<line x1="524.15" y1="23.42" x2="529.35" y2="23.42" stroke="#1020b8" stroke-width="1.1" />
<line x1="524.15" y1="29.32" x2="529.35" y2="29.32" stroke="#1020b8" stroke-width="1.1" />
<line x1="534.50" y1="21.46" x2="534.50" y2="27.35" stroke="#1020b8" stroke-width="1.1" />
<line x1="531.90" y1="21.46" x2="537.10" y2="21.46" stroke="#1020b8" stroke-width="1.1" />
<line x1="531.90" y1="27.35" x2="537.10" y2="27.35" stroke="#1020b8" stroke-width="1.1" />
<circle cx="348.50" cy="122.00" r="2.5" fill="#1020b8"/>
<circle cx="356.25" cy="108.90" r="2.5" fill="#1020b8"/>
<circle cx="364.00" cy="99.07" r="2.5" fill="#1020b8"/>
<circle cx="371.75" cy="93.83" r="2.5" fill="#1020b8"/>
<circle cx="379.50" cy="89.25" r="2.5" fill="#1020b8"/>
<circle cx="387.25" cy="84.34" r="2.5" fill="#1020b8"/>
<circle cx="395.00" cy="77.79" r="2.5" fill="#1020b8"/>
<circle cx="402.75" cy="76.80" r="2.5" fill="#1020b8"/>
<circle cx="410.50" cy="75.17" r="2.5" fill="#1020b8"/>
<circle cx="418.25" cy="69.93" r="2.5" fill="#1020b8"/>
<circle cx="426.00" cy="64.69" r="2.5" fill="#1020b8"/>
<circle cx="433.75" cy="60.10" r="2.5" fill="#1020b8"/>
<circle cx="441.50" cy="55.84" r="2.5" fill="#1020b8"/>
<circle cx="449.25" cy="51.91" r="2.5" fill="#1020b8"/>
<circle cx="457.00" cy="45.69" r="2.5" fill="#1020b8"/>
<circle cx="464.75" cy="44.05" r="2.5" fill="#1020b8"/>
<circle cx="472.50" cy="39.14" r="2.5" fill="#1020b8"/>
<circle cx="480.25" cy="42.09" r="2.5" fill="#1020b8"/>
<circle cx="488.00" cy="46.35" r="2.5" fill="#1020b8"/>
<circle cx="495.75" cy="39.80" r="2.5" fill="#1020b8"/>
<circle cx="503.50" cy="34.23" r="2.5" fill="#1020b8"/>
<circle cx="511.25" cy="30.30" r="2.5" fill="#1020b8"/>
<circle cx="519.00" cy="27.68" r="2.5" fill="#1020b8"/>
<circle cx="526.75" cy="26.37" r="2.5" fill="#1020b8"/>
<circle cx="534.50" cy="24.41" r="2.5" fill="#1020b8"/>
<polyline points="348.50,122.00 356.25,109.88 364.00,102.35 371.75,98.42 379.50,95.47 387.25,89.90 395.00,84.34 402.75,84.01 410.50,80.41 418.25,75.82 426.00,70.91 433.75,65.01 441.50,61.74 449.25,56.50 457.00,52.24 464.75,47.98 472.50,42.09 480.25,48.64 488.00,51.59 495.75,43.40 503.50,37.83 511.25,35.54 519.00,34.56 526.75,29.64 534.50,25.39" fill="none" stroke="#d42a2c" stroke-width="1.5"/>
<line x1="356.25" y1="106.94" x2="356.25" y2="112.83" stroke="#d42a2c" stroke-width="1.1" />
<line x1="353.65" y1="106.94" x2="358.85" y2="106.94" stroke="#d42a2c" stroke-width="1.1" />
<line x1="353.65" y1="112.83" x2="358.85" y2="112.83" stroke="#d42a2c" stroke-width="1.1" />
<line x1="364.00" y1="99.40" x2="364.00" y2="105.30" stroke="#d42a2c" stroke-width="1.1" />
<line x1="361.40" y1="99.40" x2="366.60" y2="99.40" stroke="#d42a2c" stroke-width="1.1" />
<line x1="361.40" y1="105.30" x2="366.60" y2="105.30" stroke="#d42a2c" stroke-width="1.1" />
<line x1="371.75" y1="95.47" x2="371.75" y2="101.37" stroke="#d42a2c" stroke-width="1.1" />
<line x1="369.15" y1="95.47" x2="374.35" y2="95.47" stroke="#d42a2c" stroke-width="1.1" />
<line x1="369.15" y1="101.37" x2="374.35" y2="101.37" stroke="#d42a2c" stroke-width="1.1" />
<line x1="379.50" y1="92.52" x2="379.50" y2="98.42" stroke="#d42a2c" stroke-width="1.1" />
<line x1="376.90" y1="92.52" x2="382.10" y2="92.52" stroke="#d42a2c" stroke-width="1.1" />
<line x1="376.90" y1="98.42" x2="382.10" y2="98.42" stroke="#d42a2c" stroke-width="1.1" />
<line x1="387.25" y1="86.96" x2="387.25" y2="92.85" stroke="#d42a2c" stroke-width="1.1" />
<line x1="384.65" y1="86.96" x2="389.85" y2="86.96" stroke="#d42a2c" stroke-width="1.1" />
<line x1="384.65" y1="92.85" x2="389.85" y2="92.85" stroke="#d42a2c" stroke-width="1.1" />
<line x1="395.00" y1="81.39" x2="395.00" y2="87.28" stroke="#d42a2c" stroke-width="1.1" />
<line x1="392.40" y1="81.39" x2="397.60" y2="81.39" stroke="#d42a2c" stroke-width="1.1" />
<line x1="392.40" y1="87.28" x2="397.60" y2="87.28" stroke="#d42a2c" stroke-width="1.1" />
<line x1="402.75" y1="81.06" x2="402.75" y2="86.96" stroke="#d42a2c" stroke-width="1.1" />
<line x1="400.15" y1="81.06" x2="405.35" y2="81.06" stroke="#d42a2c" stroke-width="1.1" />
<line x1="400.15" y1="86.96" x2="405.35" y2="86.96" stroke="#d42a2c" stroke-width="1.1" />
<line x1="410.50" y1="77.46" x2="410.50" y2="83.35" stroke="#d42a2c" stroke-width="1.1" />
<line x1="407.90" y1="77.46" x2="413.10" y2="77.46" stroke="#d42a2c" stroke-width="1.1" />
<line x1="407.90" y1="83.35" x2="413.10" y2="83.35" stroke="#d42a2c" stroke-width="1.1" />
<line x1="418.25" y1="72.88" x2="418.25" y2="78.77" stroke="#d42a2c" stroke-width="1.1" />
<line x1="415.65" y1="72.88" x2="420.85" y2="72.88" stroke="#d42a2c" stroke-width="1.1" />
<line x1="415.65" y1="78.77" x2="420.85" y2="78.77" stroke="#d42a2c" stroke-width="1.1" />
<line x1="426.00" y1="67.96" x2="426.00" y2="73.86" stroke="#d42a2c" stroke-width="1.1" />
<line x1="423.40" y1="67.96" x2="428.60" y2="67.96" stroke="#d42a2c" stroke-width="1.1" />
<line x1="423.40" y1="73.86" x2="428.60" y2="73.86" stroke="#d42a2c" stroke-width="1.1" />
<line x1="433.75" y1="62.07" x2="433.75" y2="67.96" stroke="#d42a2c" stroke-width="1.1" />
<line x1="431.15" y1="62.07" x2="436.35" y2="62.07" stroke="#d42a2c" stroke-width="1.1" />
<line x1="431.15" y1="67.96" x2="436.35" y2="67.96" stroke="#d42a2c" stroke-width="1.1" />
<line x1="441.50" y1="58.79" x2="441.50" y2="64.69" stroke="#d42a2c" stroke-width="1.1" />
<line x1="438.90" y1="58.79" x2="444.10" y2="58.79" stroke="#d42a2c" stroke-width="1.1" />
<line x1="438.90" y1="64.69" x2="444.10" y2="64.69" stroke="#d42a2c" stroke-width="1.1" />
<line x1="449.25" y1="53.55" x2="449.25" y2="59.45" stroke="#d42a2c" stroke-width="1.1" />
<line x1="446.65" y1="53.55" x2="451.85" y2="53.55" stroke="#d42a2c" stroke-width="1.1" />
<line x1="446.65" y1="59.45" x2="451.85" y2="59.45" stroke="#d42a2c" stroke-width="1.1" />
<line x1="457.00" y1="49.30" x2="457.00" y2="55.19" stroke="#d42a2c" stroke-width="1.1" />
<line x1="454.40" y1="49.30" x2="459.60" y2="49.30" stroke="#d42a2c" stroke-width="1.1" />
<line x1="454.40" y1="55.19" x2="459.60" y2="55.19" stroke="#d42a2c" stroke-width="1.1" />
<line x1="464.75" y1="45.04" x2="464.75" y2="50.93" stroke="#d42a2c" stroke-width="1.1" />
<line x1="462.15" y1="45.04" x2="467.35" y2="45.04" stroke="#d42a2c" stroke-width="1.1" />
<line x1="462.15" y1="50.93" x2="467.35" y2="50.93" stroke="#d42a2c" stroke-width="1.1" />
<line x1="472.50" y1="39.14" x2="472.50" y2="45.04" stroke="#d42a2c" stroke-width="1.1" />
<line x1="469.90" y1="39.14" x2="475.10" y2="39.14" stroke="#d42a2c" stroke-width="1.1" />
<line x1="469.90" y1="45.04" x2="475.10" y2="45.04" stroke="#d42a2c" stroke-width="1.1" />
<line x1="480.25" y1="45.69" x2="480.25" y2="51.59" stroke="#d42a2c" stroke-width="1.1" />
<line x1="477.65" y1="45.69" x2="482.85" y2="45.69" stroke="#d42a2c" stroke-width="1.1" />
<line x1="477.65" y1="51.59" x2="482.85" y2="51.59" stroke="#d42a2c" stroke-width="1.1" />
<line x1="488.00" y1="48.64" x2="488.00" y2="54.53" stroke="#d42a2c" stroke-width="1.1" />
<line x1="485.40" y1="48.64" x2="490.60" y2="48.64" stroke="#d42a2c" stroke-width="1.1" />
<line x1="485.40" y1="54.53" x2="490.60" y2="54.53" stroke="#d42a2c" stroke-width="1.1" />
<line x1="495.75" y1="40.45" x2="495.75" y2="46.35" stroke="#d42a2c" stroke-width="1.1" />
<line x1="493.15" y1="40.45" x2="498.35" y2="40.45" stroke="#d42a2c" stroke-width="1.1" />
<line x1="493.15" y1="46.35" x2="498.35" y2="46.35" stroke="#d42a2c" stroke-width="1.1" />
<line x1="503.50" y1="34.88" x2="503.50" y2="40.78" stroke="#d42a2c" stroke-width="1.1" />
<line x1="500.90" y1="34.88" x2="506.10" y2="34.88" stroke="#d42a2c" stroke-width="1.1" />
<line x1="500.90" y1="40.78" x2="506.10" y2="40.78" stroke="#d42a2c" stroke-width="1.1" />
<line x1="511.25" y1="32.59" x2="511.25" y2="38.49" stroke="#d42a2c" stroke-width="1.1" />
<line x1="508.65" y1="32.59" x2="513.85" y2="32.59" stroke="#d42a2c" stroke-width="1.1" />
<line x1="508.65" y1="38.49" x2="513.85" y2="38.49" stroke="#d42a2c" stroke-width="1.1" />
<line x1="519.00" y1="31.61" x2="519.00" y2="37.50" stroke="#d42a2c" stroke-width="1.1" />
<line x1="516.40" y1="31.61" x2="521.60" y2="31.61" stroke="#d42a2c" stroke-width="1.1" />
<line x1="516.40" y1="37.50" x2="521.60" y2="37.50" stroke="#d42a2c" stroke-width="1.1" />
<line x1="526.75" y1="26.70" x2="526.75" y2="32.59" stroke="#d42a2c" stroke-width="1.1" />
<line x1="524.15" y1="26.70" x2="529.35" y2="26.70" stroke="#d42a2c" stroke-width="1.1" />
<line x1="524.15" y1="32.59" x2="529.35" y2="32.59" stroke="#d42a2c" stroke-width="1.1" />
<line x1="534.50" y1="22.44" x2="534.50" y2="28.33" stroke="#d42a2c" stroke-width="1.1" />
<line x1="531.90" y1="22.44" x2="537.10" y2="22.44" stroke="#d42a2c" stroke-width="1.1" />
<line x1="531.90" y1="28.33" x2="537.10" y2="28.33" stroke="#d42a2c" stroke-width="1.1" />
<circle cx="348.50" cy="122.00" r="2.5" fill="#d42a2c"/>
<circle cx="356.25" cy="109.88" r="2.5" fill="#d42a2c"/>
<circle cx="364.00" cy="102.35" r="2.5" fill="#d42a2c"/>
<circle cx="371.75" cy="98.42" r="2.5" fill="#d42a2c"/>
<circle cx="379.50" cy="95.47" r="2.5" fill="#d42a2c"/>
<circle cx="387.25" cy="89.90" r="2.5" fill="#d42a2c"/>
<circle cx="395.00" cy="84.34" r="2.5" fill="#d42a2c"/>
<circle cx="402.75" cy="84.01" r="2.5" fill="#d42a2c"/>
<circle cx="410.50" cy="80.41" r="2.5" fill="#d42a2c"/>
<circle cx="418.25" cy="75.82" r="2.5" fill="#d42a2c"/>
<circle cx="426.00" cy="70.91" r="2.5" fill="#d42a2c"/>
<circle cx="433.75" cy="65.01" r="2.5" fill="#d42a2c"/>
<circle cx="441.50" cy="61.74" r="2.5" fill="#d42a2c"/>
<circle cx="449.25" cy="56.50" r="2.5" fill="#d42a2c"/>
<circle cx="457.00" cy="52.24" r="2.5" fill="#d42a2c"/>
<circle cx="464.75" cy="47.98" r="2.5" fill="#d42a2c"/>
<circle cx="472.50" cy="42.09" r="2.5" fill="#d42a2c"/>
<circle cx="480.25" cy="48.64" r="2.5" fill="#d42a2c"/>
<circle cx="488.00" cy="51.59" r="2.5" fill="#d42a2c"/>
<circle cx="495.75" cy="43.40" r="2.5" fill="#d42a2c"/>
<circle cx="503.50" cy="37.83" r="2.5" fill="#d42a2c"/>
<circle cx="511.25" cy="35.54" r="2.5" fill="#d42a2c"/>
<circle cx="519.00" cy="34.56" r="2.5" fill="#d42a2c"/>
<circle cx="526.75" cy="29.64" r="2.5" fill="#d42a2c"/>
<circle cx="534.50" cy="25.39" r="2.5" fill="#d42a2c"/>
<line x1="343.30" y1="16.20" x2="343.30" y2="149.20" stroke="#000" stroke-width="1.8" />
<line x1="342.40" y1="148.20" x2="539.70" y2="148.20" stroke="#000" stroke-width="1.8" />
<line x1="337.80" y1="148.20" x2="343.30" y2="148.20" stroke="#000" stroke-width="1.8" />
<text x="336.50" y="151.80" font-size="10" font-weight="bold" stroke="#000" stroke-width="0.33" text-anchor="end" fill="#000" >10</text>
<line x1="337.80" y1="115.45" x2="343.30" y2="115.45" stroke="#000" stroke-width="1.8" />
<text x="336.50" y="119.05" font-size="10" font-weight="bold" stroke="#000" stroke-width="0.33" text-anchor="end" fill="#000" >20</text>
<line x1="337.80" y1="82.70" x2="343.30" y2="82.70" stroke="#000" stroke-width="1.8" />
<text x="336.50" y="86.30" font-size="10" font-weight="bold" stroke="#000" stroke-width="0.33" text-anchor="end" fill="#000" >30</text>
<line x1="337.80" y1="49.95" x2="343.30" y2="49.95" stroke="#000" stroke-width="1.8" />
<text x="336.50" y="53.55" font-size="10" font-weight="bold" stroke="#000" stroke-width="0.33" text-anchor="end" fill="#000" >40</text>
<line x1="337.80" y1="17.20" x2="343.30" y2="17.20" stroke="#000" stroke-width="1.8" />
<text x="336.50" y="20.80" font-size="10" font-weight="bold" stroke="#000" stroke-width="0.33" text-anchor="end" fill="#000" >50</text>
<line x1="348.50" y1="148.20" x2="348.50" y2="153.70" stroke="#000" stroke-width="1.8" />
<text x="348.50" y="164.00" font-size="10" font-weight="bold" stroke="#000" stroke-width="0.33" text-anchor="middle" fill="#000" >6</text>
<line x1="364.00" y1="148.20" x2="364.00" y2="153.70" stroke="#000" stroke-width="1.8" />
<text x="364.00" y="164.00" font-size="10" font-weight="bold" stroke="#000" stroke-width="0.33" text-anchor="middle" fill="#000" >8</text>
<line x1="379.50" y1="148.20" x2="379.50" y2="153.70" stroke="#000" stroke-width="1.8" />
<text x="379.50" y="164.00" font-size="10" font-weight="bold" stroke="#000" stroke-width="0.33" text-anchor="middle" fill="#000" >10</text>
<line x1="395.00" y1="148.20" x2="395.00" y2="153.70" stroke="#000" stroke-width="1.8" />
<text x="395.00" y="164.00" font-size="10" font-weight="bold" stroke="#000" stroke-width="0.33" text-anchor="middle" fill="#000" >12</text>
<line x1="410.50" y1="148.20" x2="410.50" y2="153.70" stroke="#000" stroke-width="1.8" />
<text x="410.50" y="164.00" font-size="10" font-weight="bold" stroke="#000" stroke-width="0.33" text-anchor="middle" fill="#000" >14</text>
<line x1="426.00" y1="148.20" x2="426.00" y2="153.70" stroke="#000" stroke-width="1.8" />
<text x="426.00" y="164.00" font-size="10" font-weight="bold" stroke="#000" stroke-width="0.33" text-anchor="middle" fill="#000" >16</text>
<line x1="441.50" y1="148.20" x2="441.50" y2="153.70" stroke="#000" stroke-width="1.8" />
<text x="441.50" y="164.00" font-size="10" font-weight="bold" stroke="#000" stroke-width="0.33" text-anchor="middle" fill="#000" >18</text>
<line x1="457.00" y1="148.20" x2="457.00" y2="153.70" stroke="#000" stroke-width="1.8" />
<text x="457.00" y="164.00" font-size="10" font-weight="bold" stroke="#000" stroke-width="0.33" text-anchor="middle" fill="#000" >20</text>
<line x1="472.50" y1="148.20" x2="472.50" y2="153.70" stroke="#000" stroke-width="1.8" />
<text x="472.50" y="164.00" font-size="10" font-weight="bold" stroke="#000" stroke-width="0.33" text-anchor="middle" fill="#000" >22</text>
<line x1="488.00" y1="148.20" x2="488.00" y2="153.70" stroke="#000" stroke-width="1.8" />
<text x="488.00" y="164.00" font-size="10" font-weight="bold" stroke="#000" stroke-width="0.33" text-anchor="middle" fill="#000" >24</text>
<line x1="503.50" y1="148.20" x2="503.50" y2="153.70" stroke="#000" stroke-width="1.8" />
<text x="503.50" y="164.00" font-size="10" font-weight="bold" stroke="#000" stroke-width="0.33" text-anchor="middle" fill="#000" >26</text>
<line x1="519.00" y1="148.20" x2="519.00" y2="153.70" stroke="#000" stroke-width="1.8" />
<text x="519.00" y="164.00" font-size="10" font-weight="bold" stroke="#000" stroke-width="0.33" text-anchor="middle" fill="#000" >28</text>
<line x1="534.50" y1="148.20" x2="534.50" y2="153.70" stroke="#000" stroke-width="1.8" />
<text x="534.50" y="164.00" font-size="10" font-weight="bold" stroke="#000" stroke-width="0.33" text-anchor="middle" fill="#000" >30</text>
<text x="442.00" y="180.66" font-size="11" font-weight="bold" stroke="#000" stroke-width="0.37" text-anchor="middle" fill="#000" >Weeks</text>
<text x="0.00" y="0.00" font-size="10.5" font-weight="bold" stroke="#000" stroke-width="0.35" text-anchor="middle" fill="#000" transform="translate(319.28 82.6) rotate(-90)">Body weight (g)</text>
<text x="319.40" y="11.50" font-size="14" stroke="#000" stroke-width="0.18" text-anchor="middle" fill="#000" >b</text>
<line x1="349.90" y1="13.00" x2="365.20" y2="13.00" stroke="#000000" stroke-width="1.5" />
<circle cx="357.50" cy="13.00" r="2.6" fill="#000000"/>
<text x="372.20" y="16.82" font-size="10.6" stroke="#000" stroke-width="0.13" text-anchor="start" fill="#000" >SD</text>
<line x1="349.90" y1="27.60" x2="365.20" y2="27.60" stroke="#ff2804" stroke-width="1.5" />
<circle cx="357.50" cy="27.60" r="2.6" fill="#ff2804"/>
<text x="372.20" y="31.42" font-size="10.6" stroke="#000" stroke-width="0.13" text-anchor="start" fill="#000" >SD+GLN</text>
<line x1="349.90" y1="40.70" x2="365.20" y2="40.70" stroke="#1020b8" stroke-width="1.5" />
<circle cx="357.50" cy="40.70" r="2.6" fill="#1020b8"/>
<text x="372.20" y="44.52" font-size="10.6" stroke="#000" stroke-width="0.13" text-anchor="start" fill="#000" >HFD</text>
<line x1="349.90" y1="54.00" x2="365.20" y2="54.00" stroke="#d42a2c" stroke-width="1.5" />
<circle cx="357.50" cy="54.00" r="2.6" fill="#d42a2c"/>
<text x="372.20" y="57.82" font-size="10.6" stroke="#000" stroke-width="0.13" text-anchor="start" fill="#000" >HFD+GLN</text>
<path d="M87.35 412.30 L87.35 408.06 L101.25 408.06 L101.25 412.30" fill="#fff" stroke="#000000" stroke-width="2.4"/>
<path d="M111.45 412.30 L111.45 408.80 L125.35 408.80 L125.35 412.30" fill="#fff" stroke="#ff2804" stroke-width="2.4"/>
<path d="M136.05 412.30 L136.05 364.73 L149.95 364.73 L149.95 412.30" fill="#fff" stroke="#1020b8" stroke-width="2.4"/>
<path d="M160.55 412.30 L160.55 359.44 L174.45 359.44 L174.45 412.30" fill="#fff" stroke="#d42a2c" stroke-width="2.4"/>
<path d="M201.35 412.30 L201.35 276.74 L215.25 276.74 L215.25 412.30" fill="#fff" stroke="#000000" stroke-width="2.4"/>
<path d="M225.55 412.30 L225.55 280.56 L239.45 280.56 L239.45 412.30" fill="#fff" stroke="#ff2804" stroke-width="2.4"/>
<path d="M250.25 412.30 L250.25 321.54 L264.15 321.54 L264.15 412.30" fill="#fff" stroke="#1020b8" stroke-width="2.4"/>
<path d="M274.65 412.30 L274.65 326.68 L288.55 326.68 L288.55 412.30" fill="#fff" stroke="#d42a2c" stroke-width="2.4"/>
<circle cx="95.48" cy="398.08" r="3.0" fill="#000000"/>
<circle cx="92.39" cy="400.39" r="3.0" fill="#000000"/>
<circle cx="90.08" cy="402.71" r="3.0" fill="#000000"/>
<circle cx="93.93" cy="404.25" r="3.0" fill="#000000"/>
<circle cx="90.85" cy="405.79" r="3.0" fill="#000000"/>
<circle cx="97.02" cy="407.33" r="3.0" fill="#000000"/>
<circle cx="88.54" cy="408.88" r="3.0" fill="#000000"/>
<circle cx="93.16" cy="409.65" r="3.0" fill="#000000"/>
<circle cx="98.56" cy="410.42" r="3.0" fill="#000000"/>
<circle cx="120.16" cy="400.39" r="3.0" fill="#ff2804"/>
<circle cx="117.07" cy="402.71" r="3.0" fill="#ff2804"/>
<circle cx="114.76" cy="404.25" r="3.0" fill="#ff2804"/>
<circle cx="120.93" cy="405.02" r="3.0" fill="#ff2804"/>
<circle cx="117.84" cy="406.56" r="3.0" fill="#ff2804"/>
<circle cx="113.99" cy="408.11" r="3.0" fill="#ff2804"/>
<circle cx="121.70" cy="408.88" r="3.0" fill="#ff2804"/>
<circle cx="118.61" cy="410.42" r="3.0" fill="#ff2804"/>
<circle cx="144.07" cy="348.72" r="3.0" fill="#1020b8"/>
<circle cx="137.12" cy="356.43" r="3.0" fill="#1020b8"/>
<circle cx="145.61" cy="354.89" r="3.0" fill="#1020b8"/>
<circle cx="147.92" cy="358.75" r="3.0" fill="#1020b8"/>
<circle cx="140.21" cy="361.06" r="3.0" fill="#1020b8"/>
<circle cx="144.07" cy="364.92" r="3.0" fill="#1020b8"/>
<circle cx="145.61" cy="367.23" r="3.0" fill="#1020b8"/>
<circle cx="140.98" cy="372.63" r="3.0" fill="#1020b8"/>
<circle cx="144.84" cy="373.40" r="3.0" fill="#1020b8"/>
<circle cx="142.83" cy="380.34" r="3.0" fill="#1020b8"/>
<circle cx="161.80" cy="350.26" r="3.0" fill="#d42a2c"/>
<circle cx="167.97" cy="351.03" r="3.0" fill="#d42a2c"/>
<circle cx="172.60" cy="352.58" r="3.0" fill="#d42a2c"/>
<circle cx="164.89" cy="354.89" r="3.0" fill="#d42a2c"/>
<circle cx="170.29" cy="357.97" r="3.0" fill="#d42a2c"/>
<circle cx="167.20" cy="361.06" r="3.0" fill="#d42a2c"/>
<circle cx="163.35" cy="364.14" r="3.0" fill="#d42a2c"/>
<circle cx="169.52" cy="364.92" r="3.0" fill="#d42a2c"/>
<circle cx="166.43" cy="368.00" r="3.0" fill="#d42a2c"/>
<circle cx="164.89" cy="368.77" r="3.0" fill="#d42a2c"/>
<circle cx="210.85" cy="272.37" r="3.0" fill="#000000"/>
<circle cx="202.37" cy="274.68" r="3.0" fill="#000000"/>
<circle cx="206.99" cy="276.22" r="3.0" fill="#000000"/>
<circle cx="213.16" cy="278.54" r="3.0" fill="#000000"/>
<circle cx="203.14" cy="279.31" r="3.0" fill="#000000"/>
<circle cx="209.31" cy="280.85" r="3.0" fill="#000000"/>
<circle cx="204.68" cy="283.16" r="3.0" fill="#000000"/>
<circle cx="210.85" cy="286.25" r="3.0" fill="#000000"/>
<circle cx="207.76" cy="287.79" r="3.0" fill="#000000"/>
<circle cx="205.45" cy="290.88" r="3.0" fill="#000000"/>
<circle cx="232.44" cy="269.28" r="3.0" fill="#ff2804"/>
<circle cx="226.27" cy="276.22" r="3.0" fill="#ff2804"/>
<circle cx="230.90" cy="275.45" r="3.0" fill="#ff2804"/>
<circle cx="237.07" cy="277.76" r="3.0" fill="#ff2804"/>
<circle cx="233.22" cy="280.08" r="3.0" fill="#ff2804"/>
<circle cx="229.36" cy="280.85" r="3.0" fill="#ff2804"/>
<circle cx="234.76" cy="282.39" r="3.0" fill="#ff2804"/>
<circle cx="231.67" cy="285.48" r="3.0" fill="#ff2804"/>
<circle cx="232.44" cy="293.19" r="3.0" fill="#ff2804"/>
<circle cx="258.67" cy="306.30" r="3.0" fill="#1020b8"/>
<circle cx="254.04" cy="308.61" r="3.0" fill="#1020b8"/>
<circle cx="261.75" cy="312.47" r="3.0" fill="#1020b8"/>
<circle cx="256.35" cy="314.78" r="3.0" fill="#1020b8"/>
<circle cx="254.04" cy="317.87" r="3.0" fill="#1020b8"/>
<circle cx="260.21" cy="320.95" r="3.0" fill="#1020b8"/>
<circle cx="254.81" cy="325.58" r="3.0" fill="#1020b8"/>
<circle cx="261.75" cy="328.67" r="3.0" fill="#1020b8"/>
<circle cx="256.35" cy="330.21" r="3.0" fill="#1020b8"/>
<circle cx="252.50" cy="331.75" r="3.0" fill="#1020b8"/>
<circle cx="276.41" cy="311.70" r="3.0" fill="#d42a2c"/>
<circle cx="279.49" cy="316.33" r="3.0" fill="#d42a2c"/>
<circle cx="286.43" cy="317.87" r="3.0" fill="#d42a2c"/>
<circle cx="275.63" cy="320.95" r="3.0" fill="#d42a2c"/>
<circle cx="283.35" cy="323.27" r="3.0" fill="#d42a2c"/>
<circle cx="278.72" cy="326.35" r="3.0" fill="#d42a2c"/>
<circle cx="284.89" cy="328.67" r="3.0" fill="#d42a2c"/>
<circle cx="276.41" cy="330.98" r="3.0" fill="#d42a2c"/>
<circle cx="281.80" cy="333.29" r="3.0" fill="#d42a2c"/>
<circle cx="278.72" cy="334.84" r="3.0" fill="#d42a2c"/>
<line x1="94.30" y1="405.69" x2="94.30" y2="408.04" stroke="#000000" stroke-width="1.4" />
<line x1="90.30" y1="405.69" x2="98.30" y2="405.69" stroke="#000000" stroke-width="1.4" />
<line x1="90.30" y1="408.04" x2="98.30" y2="408.04" stroke="#000000" stroke-width="1.4" />
<line x1="118.40" y1="406.72" x2="118.40" y2="408.48" stroke="#ff2804" stroke-width="1.4" />
<line x1="114.40" y1="406.72" x2="122.40" y2="406.72" stroke="#ff2804" stroke-width="1.4" />
<line x1="114.40" y1="408.48" x2="122.40" y2="408.48" stroke="#ff2804" stroke-width="1.4" />
<line x1="143.00" y1="360.59" x2="143.00" y2="366.47" stroke="#1020b8" stroke-width="1.4" />
<line x1="139.00" y1="360.59" x2="147.00" y2="360.59" stroke="#1020b8" stroke-width="1.4" />
<line x1="139.00" y1="366.47" x2="147.00" y2="366.47" stroke="#1020b8" stroke-width="1.4" />
<line x1="167.50" y1="356.33" x2="167.50" y2="360.15" stroke="#d42a2c" stroke-width="1.4" />
<line x1="163.50" y1="356.33" x2="171.50" y2="356.33" stroke="#d42a2c" stroke-width="1.4" />
<line x1="163.50" y1="360.15" x2="171.50" y2="360.15" stroke="#d42a2c" stroke-width="1.4" />
<line x1="208.30" y1="274.07" x2="208.30" y2="277.01" stroke="#000000" stroke-width="1.4" />
<line x1="204.30" y1="274.07" x2="212.30" y2="274.07" stroke="#000000" stroke-width="1.4" />
<line x1="204.30" y1="277.01" x2="212.30" y2="277.01" stroke="#000000" stroke-width="1.4" />
<line x1="232.50" y1="277.59" x2="232.50" y2="281.12" stroke="#ff2804" stroke-width="1.4" />
<line x1="228.50" y1="277.59" x2="236.50" y2="277.59" stroke="#ff2804" stroke-width="1.4" />
<line x1="228.50" y1="281.12" x2="236.50" y2="281.12" stroke="#ff2804" stroke-width="1.4" />
<line x1="257.20" y1="318.28" x2="257.20" y2="322.40" stroke="#1020b8" stroke-width="1.4" />
<line x1="253.20" y1="318.28" x2="261.20" y2="318.28" stroke="#1020b8" stroke-width="1.4" />
<line x1="253.20" y1="322.40" x2="261.20" y2="322.40" stroke="#1020b8" stroke-width="1.4" />
<line x1="281.60" y1="323.72" x2="281.60" y2="327.24" stroke="#d42a2c" stroke-width="1.4" />
<line x1="277.60" y1="323.72" x2="285.60" y2="323.72" stroke="#d42a2c" stroke-width="1.4" />
<line x1="277.60" y1="327.24" x2="285.60" y2="327.24" stroke="#d42a2c" stroke-width="1.4" />
<line x1="77.50" y1="264.40" x2="77.50" y2="413.30" stroke="#000" stroke-width="2.0" />
<line x1="76.50" y1="412.30" x2="297.50" y2="412.30" stroke="#000" stroke-width="2.0" />
<line x1="72.50" y1="412.30" x2="77.50" y2="412.30" stroke="#000" stroke-width="2.0" />
<text x="71.50" y="416.26" font-size="11" font-weight="bold" stroke="#000" stroke-width="0.37" text-anchor="end" fill="#000" >0</text>
<line x1="72.50" y1="382.92" x2="77.50" y2="382.92" stroke="#000" stroke-width="2.0" />
<text x="71.50" y="386.88" font-size="11" font-weight="bold" stroke="#000" stroke-width="0.37" text-anchor="end" fill="#000" >20</text>
<line x1="72.50" y1="353.54" x2="77.50" y2="353.54" stroke="#000" stroke-width="2.0" />
<text x="71.50" y="357.50" font-size="11" font-weight="bold" stroke="#000" stroke-width="0.37" text-anchor="end" fill="#000" >40</text>
<line x1="72.50" y1="324.16" x2="77.50" y2="324.16" stroke="#000" stroke-width="2.0" />
<text x="71.50" y="328.12" font-size="11" font-weight="bold" stroke="#000" stroke-width="0.37" text-anchor="end" fill="#000" >60</text>
<line x1="72.50" y1="294.78" x2="77.50" y2="294.78" stroke="#000" stroke-width="2.0" />
<text x="71.50" y="298.74" font-size="11" font-weight="bold" stroke="#000" stroke-width="0.37" text-anchor="end" fill="#000" >80</text>
<line x1="72.50" y1="265.40" x2="77.50" y2="265.40" stroke="#000" stroke-width="2.0" />
<text x="71.50" y="269.36" font-size="11" font-weight="bold" stroke="#000" stroke-width="0.37" text-anchor="end" fill="#000" >100</text>
<line x1="130.20" y1="412.30" x2="130.20" y2="417.30" stroke="#000" stroke-width="2.0" />
<line x1="244.80" y1="412.30" x2="244.80" y2="417.30" stroke="#000" stroke-width="2.0" />
<text x="130.70" y="430.44" font-size="11.5" font-weight="bold" stroke="#000" stroke-width="0.38" text-anchor="middle" fill="#000" >Fat mass</text>
<text x="245.00" y="430.44" font-size="11.5" font-weight="bold" stroke="#000" stroke-width="0.38" text-anchor="middle" fill="#000" >Lean mass</text>
<text x="0.00" y="0.00" font-size="13" font-weight="bold" stroke="#000" stroke-width="0.43" text-anchor="middle" fill="#000" transform="translate(44.68 333.5) rotate(-90)">Body composition (%)</text>
<text x="45.20" y="231.60" font-size="14" stroke="#000" stroke-width="0.18" text-anchor="middle" fill="#000" >d</text>
<circle cx="93.60" cy="264.70" r="3.1" fill="#000000"/>
<text x="110.60" y="268.98" font-size="11.9" stroke="#000" stroke-width="0.15" text-anchor="start" fill="#000" >SD</text>
<circle cx="93.60" cy="280.40" r="3.1" fill="#ff2804"/>
<text x="110.60" y="284.68" font-size="11.9" stroke="#000" stroke-width="0.15" text-anchor="start" fill="#000" >SD+GLN</text>
<circle cx="93.60" cy="297.00" r="3.1" fill="#1020b8"/>
<text x="110.60" y="301.28" font-size="11.9" stroke="#000" stroke-width="0.15" text-anchor="start" fill="#000" >HFD</text>
<circle cx="93.60" cy="313.00" r="3.1" fill="#d42a2c"/>
<text x="110.60" y="317.28" font-size="11.9" stroke="#000" stroke-width="0.15" text-anchor="start" fill="#000" >HFD+GLN</text>
<text x="143.00" y="336.23" font-size="10.4" font-weight="bold" stroke="#000" stroke-width="0.35" text-anchor="middle" fill="#000" >***</text>
<text x="167.50" y="336.23" font-size="10.4" font-weight="bold" stroke="#000" stroke-width="0.35" text-anchor="middle" fill="#000" >***</text>
<text x="257.10" y="283.33" font-size="10.4" font-weight="bold" stroke="#000" stroke-width="0.35" text-anchor="middle" fill="#000" >***</text>
<text x="281.30" y="283.33" font-size="10.4" font-weight="bold" stroke="#000" stroke-width="0.35" text-anchor="middle" fill="#000" >***</text>
<path d="M616.70 180.50 L616.70 98.41 L639.30 98.41 L639.30 180.50" fill="#fff" stroke="#000000" stroke-width="2.9"/>
<path d="M654.30 180.50 L654.30 99.23 L676.90 99.23 L676.90 180.50" fill="#fff" stroke="#ff2804" stroke-width="2.9"/>
<path d="M691.70 180.50 L691.70 51.18 L714.30 51.18 L714.30 180.50" fill="#fff" stroke="#1020b8" stroke-width="2.9"/>
<path d="M729.40 180.50 L729.40 52.27 L752.00 52.27 L752.00 180.50" fill="#fff" stroke="#d42a2c" stroke-width="2.9"/>
<circle cx="618.58" cy="92.12" r="3.6" fill="#000000"/>
<circle cx="627.97" cy="92.12" r="3.6" fill="#000000"/>
<circle cx="633.87" cy="94.30" r="3.6" fill="#000000"/>
<circle cx="621.85" cy="96.49" r="3.6" fill="#000000"/>
<circle cx="626.22" cy="96.49" r="3.6" fill="#000000"/>
<circle cx="630.59" cy="96.92" r="3.6" fill="#000000"/>
<circle cx="636.06" cy="96.49" r="3.6" fill="#000000"/>
<circle cx="620.76" cy="102.60" r="3.6" fill="#000000"/>
<circle cx="633.87" cy="103.70" r="3.6" fill="#000000"/>
<circle cx="624.04" cy="99.76" r="3.6" fill="#000000"/>
<circle cx="660.10" cy="91.68" r="3.6" fill="#ff2804"/>
<circle cx="655.73" cy="97.58" r="3.6" fill="#ff2804"/>
<circle cx="665.56" cy="95.39" r="3.6" fill="#ff2804"/>
<circle cx="674.30" cy="95.39" r="3.6" fill="#ff2804"/>
<circle cx="669.93" cy="98.67" r="3.6" fill="#ff2804"/>
<circle cx="659.00" cy="104.13" r="3.6" fill="#ff2804"/>
<circle cx="665.56" cy="103.04" r="3.6" fill="#ff2804"/>
<circle cx="672.12" cy="101.95" r="3.6" fill="#ff2804"/>
<circle cx="662.28" cy="99.76" r="3.6" fill="#ff2804"/>
<circle cx="667.74" cy="97.58" r="3.6" fill="#ff2804"/>
<circle cx="700.96" cy="39.23" r="3.6" fill="#1020b8"/>
<circle cx="708.61" cy="41.85" r="3.6" fill="#1020b8"/>
<circle cx="712.54" cy="46.22" r="3.6" fill="#1020b8"/>
<circle cx="693.97" cy="47.32" r="3.6" fill="#1020b8"/>
<circle cx="698.34" cy="49.50" r="3.6" fill="#1020b8"/>
<circle cx="703.80" cy="52.78" r="3.6" fill="#1020b8"/>
<circle cx="709.27" cy="50.59" r="3.6" fill="#1020b8"/>
<circle cx="712.54" cy="52.78" r="3.6" fill="#1020b8"/>
<circle cx="702.71" cy="73.54" r="3.6" fill="#1020b8"/>
<circle cx="705.99" cy="48.41" r="3.6" fill="#1020b8"/>
<circle cx="736.58" cy="39.67" r="3.6" fill="#d42a2c"/>
<circle cx="740.95" cy="39.23" r="3.6" fill="#d42a2c"/>
<circle cx="745.32" cy="38.58" r="3.6" fill="#d42a2c"/>
<circle cx="735.49" cy="48.41" r="3.6" fill="#d42a2c"/>
<circle cx="739.86" cy="49.50" r="3.6" fill="#d42a2c"/>
<circle cx="749.69" cy="52.78" r="3.6" fill="#d42a2c"/>
<circle cx="745.32" cy="54.97" r="3.6" fill="#d42a2c"/>
<circle cx="739.86" cy="58.24" r="3.6" fill="#d42a2c"/>
<circle cx="745.32" cy="59.34" r="3.6" fill="#d42a2c"/>
<circle cx="735.49" cy="63.71" r="3.6" fill="#d42a2c"/>
<circle cx="737.67" cy="53.87" r="3.6" fill="#d42a2c"/>
<line x1="628.00" y1="95.60" x2="628.00" y2="98.33" stroke="#000000" stroke-width="1.8" />
<line x1="621.00" y1="95.60" x2="635.00" y2="95.60" stroke="#000000" stroke-width="1.8" />
<line x1="621.00" y1="98.33" x2="635.00" y2="98.33" stroke="#000000" stroke-width="1.8" />
<line x1="665.60" y1="96.42" x2="665.60" y2="99.15" stroke="#ff2804" stroke-width="1.8" />
<line x1="658.60" y1="96.42" x2="672.60" y2="96.42" stroke="#ff2804" stroke-width="1.8" />
<line x1="658.60" y1="99.15" x2="672.60" y2="99.15" stroke="#ff2804" stroke-width="1.8" />
<line x1="703.00" y1="46.46" x2="703.00" y2="53.01" stroke="#1020b8" stroke-width="1.8" />
<line x1="696.00" y1="46.46" x2="710.00" y2="46.46" stroke="#1020b8" stroke-width="1.8" />
<line x1="696.00" y1="53.01" x2="710.00" y2="53.01" stroke="#1020b8" stroke-width="1.8" />
<line x1="740.70" y1="48.09" x2="740.70" y2="53.55" stroke="#d42a2c" stroke-width="1.8" />
<line x1="733.70" y1="48.09" x2="747.70" y2="48.09" stroke="#d42a2c" stroke-width="1.8" />
<line x1="733.70" y1="53.55" x2="747.70" y2="53.55" stroke="#d42a2c" stroke-width="1.8" />
<line x1="602.50" y1="15.60" x2="602.50" y2="181.60" stroke="#000" stroke-width="2.2" />
<line x1="601.40" y1="180.50" x2="766.00" y2="180.50" stroke="#000" stroke-width="2.2" />
<line x1="595.90" y1="180.50" x2="602.50" y2="180.50" stroke="#000" stroke-width="2.2" />
<text x="594.30" y="184.80" font-size="12.1" font-weight="bold" stroke="#000" stroke-width="0.40" text-anchor="end" fill="#000" >0</text>
<line x1="595.90" y1="125.90" x2="602.50" y2="125.90" stroke="#000" stroke-width="2.2" />
<text x="594.30" y="130.20" font-size="12.1" font-weight="bold" stroke="#000" stroke-width="0.40" text-anchor="end" fill="#000" >20</text>
<line x1="595.90" y1="71.30" x2="602.50" y2="71.30" stroke="#000" stroke-width="2.2" />
<text x="594.30" y="75.60" font-size="12.1" font-weight="bold" stroke="#000" stroke-width="0.40" text-anchor="end" fill="#000" >40</text>
<line x1="595.90" y1="16.70" x2="602.50" y2="16.70" stroke="#000" stroke-width="2.2" />
<text x="594.30" y="21.00" font-size="12.1" font-weight="bold" stroke="#000" stroke-width="0.40" text-anchor="end" fill="#000" >60</text>
<line x1="628.00" y1="180.50" x2="628.00" y2="188.00" stroke="#000" stroke-width="2.2" />
<line x1="665.60" y1="180.50" x2="665.60" y2="188.00" stroke="#000" stroke-width="2.2" />
<line x1="703.00" y1="180.50" x2="703.00" y2="188.00" stroke="#000" stroke-width="2.2" />
<line x1="740.70" y1="180.50" x2="740.70" y2="188.00" stroke="#000" stroke-width="2.2" />
<text x="631.10" y="194.60" font-size="12.6" font-weight="bold" stroke="#000" stroke-width="0.42" text-anchor="end" fill="#000" transform="rotate(-45 631.10 194.60)">SD</text>
<text x="668.70" y="194.60" font-size="12.6" font-weight="bold" stroke="#000" stroke-width="0.42" text-anchor="end" fill="#000" transform="rotate(-45 668.70 194.60)">SD+GLN</text>
<text x="706.10" y="194.60" font-size="12.6" font-weight="bold" stroke="#000" stroke-width="0.42" text-anchor="end" fill="#000" transform="rotate(-45 706.10 194.60)">HFD</text>
<text x="743.80" y="194.60" font-size="12.6" font-weight="bold" stroke="#000" stroke-width="0.42" text-anchor="end" fill="#000" transform="rotate(-45 743.80 194.60)">HFD+GLN</text>
<text x="0.00" y="0.00" font-size="13.1" font-weight="bold" stroke="#000" stroke-width="0.44" text-anchor="middle" fill="#000" transform="translate(570.41 98.00) rotate(-90)">Body weight (g)</text>
<text x="564.70" y="10.80" font-size="14" stroke="#000" stroke-width="0.18" text-anchor="middle" fill="#000" >c</text>
<text x="703.00" y="26.64" font-size="15.2" font-weight="bold" stroke="#000" stroke-width="0.51" text-anchor="middle" fill="#000" >***</text>
<text x="741.00" y="25.33" font-size="12.6" font-weight="bold" stroke="#000" stroke-width="0.42" text-anchor="middle" fill="#000" >***</text>
<path d="M371.70 413.40 L371.70 275.00 L396.30 275.00 L396.30 413.40" fill="#fff" stroke="#000000" stroke-width="2.9"/>
<path d="M412.80 413.40 L412.80 293.64 L437.40 293.64 L437.40 413.40" fill="#fff" stroke="#ff2804" stroke-width="2.9"/>
<path d="M454.30 413.40 L454.30 344.92 L478.90 344.92 L478.90 413.40" fill="#fff" stroke="#1020b8" stroke-width="2.9"/>
<path d="M495.70 413.40 L495.70 353.17 L520.30 353.17 L520.30 413.40" fill="#fff" stroke="#d42a2c" stroke-width="2.9"/>
<circle cx="383.60" cy="252.67" r="3.6" fill="#000000"/>
<circle cx="373.55" cy="271.03" r="3.6" fill="#000000"/>
<circle cx="380.76" cy="270.59" r="3.6" fill="#000000"/>
<circle cx="387.32" cy="270.59" r="3.6" fill="#000000"/>
<circle cx="393.87" cy="271.03" r="3.6" fill="#000000"/>
<circle cx="379.67" cy="277.59" r="3.6" fill="#000000"/>
<circle cx="387.32" cy="281.52" r="3.6" fill="#000000"/>
<circle cx="392.78" cy="280.43" r="3.6" fill="#000000"/>
<circle cx="373.55" cy="285.24" r="3.6" fill="#000000"/>
<circle cx="425.12" cy="278.90" r="3.6" fill="#ff2804"/>
<circle cx="435.39" cy="286.98" r="3.6" fill="#ff2804"/>
<circle cx="414.63" cy="293.54" r="3.6" fill="#ff2804"/>
<circle cx="425.56" cy="295.73" r="3.6" fill="#ff2804"/>
<circle cx="434.30" cy="296.38" r="3.6" fill="#ff2804"/>
<circle cx="415.73" cy="302.72" r="3.6" fill="#ff2804"/>
<circle cx="466.42" cy="304.47" r="3.6" fill="#1020b8"/>
<circle cx="466.42" cy="316.49" r="3.6" fill="#1020b8"/>
<circle cx="466.42" cy="328.51" r="3.6" fill="#1020b8"/>
<circle cx="466.42" cy="337.48" r="3.6" fill="#1020b8"/>
<circle cx="456.15" cy="359.34" r="3.6" fill="#1020b8"/>
<circle cx="466.42" cy="363.05" r="3.6" fill="#1020b8"/>
<circle cx="476.91" cy="361.08" r="3.6" fill="#1020b8"/>
<circle cx="466.42" cy="377.47" r="3.6" fill="#1020b8"/>
<circle cx="507.95" cy="335.73" r="3.6" fill="#d42a2c"/>
<circle cx="497.67" cy="341.20" r="3.6" fill="#d42a2c"/>
<circle cx="518.44" cy="337.48" r="3.6" fill="#d42a2c"/>
<circle cx="503.14" cy="352.78" r="3.6" fill="#d42a2c"/>
<circle cx="512.97" cy="350.59" r="3.6" fill="#d42a2c"/>
<circle cx="507.95" cy="364.80" r="3.6" fill="#d42a2c"/>
<circle cx="507.95" cy="377.91" r="3.6" fill="#d42a2c"/>
<line x1="384.00" y1="269.96" x2="384.00" y2="277.13" stroke="#000000" stroke-width="1.8" />
<line x1="377.00" y1="269.96" x2="391.00" y2="269.96" stroke="#000000" stroke-width="1.8" />
<line x1="377.00" y1="277.13" x2="391.00" y2="277.13" stroke="#000000" stroke-width="1.8" />
<line x1="425.10" y1="288.97" x2="425.10" y2="295.42" stroke="#ff2804" stroke-width="1.8" />
<line x1="418.10" y1="288.97" x2="432.10" y2="288.97" stroke="#ff2804" stroke-width="1.8" />
<line x1="418.10" y1="295.42" x2="432.10" y2="295.42" stroke="#ff2804" stroke-width="1.8" />
<line x1="466.60" y1="334.51" x2="466.60" y2="352.44" stroke="#1020b8" stroke-width="1.8" />
<line x1="459.60" y1="334.51" x2="473.60" y2="334.51" stroke="#1020b8" stroke-width="1.8" />
<line x1="459.60" y1="352.44" x2="473.60" y2="352.44" stroke="#1020b8" stroke-width="1.8" />
<line x1="508.00" y1="345.98" x2="508.00" y2="357.46" stroke="#d42a2c" stroke-width="1.8" />
<line x1="501.00" y1="345.98" x2="515.00" y2="345.98" stroke="#d42a2c" stroke-width="1.8" />
<line x1="501.00" y1="357.46" x2="515.00" y2="357.46" stroke="#d42a2c" stroke-width="1.8" />
<line x1="357.20" y1="233.00" x2="357.20" y2="414.50" stroke="#000" stroke-width="2.2" />
<line x1="356.10" y1="413.40" x2="536.00" y2="413.40" stroke="#000" stroke-width="2.2" />
<line x1="349.80" y1="413.40" x2="357.20" y2="413.40" stroke="#000" stroke-width="2.2" />
<text x="348.10" y="417.80" font-size="12.4" font-weight="bold" stroke="#000" stroke-width="0.41" text-anchor="end" fill="#000" >0</text>
<line x1="349.80" y1="377.54" x2="357.20" y2="377.54" stroke="#000" stroke-width="2.2" />
<text x="348.10" y="381.94" font-size="12.4" font-weight="bold" stroke="#000" stroke-width="0.41" text-anchor="end" fill="#000" >1</text>
<line x1="349.80" y1="341.68" x2="357.20" y2="341.68" stroke="#000" stroke-width="2.2" />
<text x="348.10" y="346.08" font-size="12.4" font-weight="bold" stroke="#000" stroke-width="0.41" text-anchor="end" fill="#000" >2</text>
<line x1="349.80" y1="305.82" x2="357.20" y2="305.82" stroke="#000" stroke-width="2.2" />
<text x="348.10" y="310.22" font-size="12.4" font-weight="bold" stroke="#000" stroke-width="0.41" text-anchor="end" fill="#000" >3</text>
<line x1="349.80" y1="269.96" x2="357.20" y2="269.96" stroke="#000" stroke-width="2.2" />
<text x="348.10" y="274.36" font-size="12.4" font-weight="bold" stroke="#000" stroke-width="0.41" text-anchor="end" fill="#000" >4</text>
<line x1="349.80" y1="234.10" x2="357.20" y2="234.10" stroke="#000" stroke-width="2.2" />
<text x="348.10" y="238.50" font-size="12.4" font-weight="bold" stroke="#000" stroke-width="0.41" text-anchor="end" fill="#000" >5</text>
<line x1="384.00" y1="413.40" x2="384.00" y2="420.90" stroke="#000" stroke-width="2.2" />
<line x1="425.10" y1="413.40" x2="425.10" y2="420.90" stroke="#000" stroke-width="2.2" />
<line x1="466.60" y1="413.40" x2="466.60" y2="420.90" stroke="#000" stroke-width="2.2" />
<line x1="508.00" y1="413.40" x2="508.00" y2="420.90" stroke="#000" stroke-width="2.2" />
<text x="387.10" y="430.10" font-size="13.6" font-weight="bold" stroke="#000" stroke-width="0.45" text-anchor="end" fill="#000" transform="rotate(-45 387.10 430.10)">SD</text>
<text x="428.20" y="430.10" font-size="13.6" font-weight="bold" stroke="#000" stroke-width="0.45" text-anchor="end" fill="#000" transform="rotate(-45 428.20 430.10)">SD+GLN</text>
<text x="469.70" y="430.10" font-size="13.6" font-weight="bold" stroke="#000" stroke-width="0.45" text-anchor="end" fill="#000" transform="rotate(-45 469.70 430.10)">HFD</text>
<text x="511.10" y="430.10" font-size="13.6" font-weight="bold" stroke="#000" stroke-width="0.45" text-anchor="end" fill="#000" transform="rotate(-45 511.10 430.10)">HFD+GLN</text>
<text x="0.00" y="0.00" font-size="14.2" font-weight="bold" stroke="#000" stroke-width="0.47" text-anchor="middle" fill="#000" transform="translate(329.39 324.00) rotate(-90)">Food intake (g/day)</text>
<text x="323.30" y="232.60" font-size="14" stroke="#000" stroke-width="0.18" text-anchor="middle" fill="#000" >e</text>
<text x="466.40" y="282.64" font-size="15.2" font-weight="bold" stroke="#000" stroke-width="0.51" text-anchor="middle" fill="#000" >***</text>
<text x="508.00" y="282.64" font-size="15.2" font-weight="bold" stroke="#000" stroke-width="0.51" text-anchor="middle" fill="#000" >***</text>
<path d="M617.95 410.20 L617.95 354.23 L641.85 354.23 L641.85 410.20" fill="#fff" stroke="#000000" stroke-width="2.9"/>
<path d="M657.85 410.20 L657.85 322.44 L681.75 322.44 L681.75 410.20" fill="#fff" stroke="#ff2804" stroke-width="2.9"/>
<path d="M698.25 410.20 L698.25 390.69 L722.15 390.69 L722.15 410.20" fill="#fff" stroke="#1020b8" stroke-width="2.9"/>
<path d="M738.75 410.20 L738.75 387.42 L762.65 387.42 L762.65 410.20" fill="#fff" stroke="#d42a2c" stroke-width="2.9"/>
<circle cx="629.85" cy="339.23" r="3.6" fill="#000000"/>
<circle cx="620.02" cy="348.85" r="3.6" fill="#000000"/>
<circle cx="639.69" cy="351.03" r="3.6" fill="#000000"/>
<circle cx="618.93" cy="354.97" r="3.6" fill="#000000"/>
<circle cx="624.39" cy="356.06" r="3.6" fill="#000000"/>
<circle cx="629.85" cy="356.06" r="3.6" fill="#000000"/>
<circle cx="635.32" cy="354.97" r="3.6" fill="#000000"/>
<circle cx="639.69" cy="359.34" r="3.6" fill="#000000"/>
<circle cx="620.02" cy="358.24" r="3.6" fill="#000000"/>
<circle cx="669.84" cy="296.98" r="3.6" fill="#ff2804"/>
<circle cx="660.01" cy="316.00" r="3.6" fill="#ff2804"/>
<circle cx="680.12" cy="315.56" r="3.6" fill="#ff2804"/>
<circle cx="665.91" cy="318.18" r="3.6" fill="#ff2804"/>
<circle cx="673.56" cy="318.18" r="3.6" fill="#ff2804"/>
<circle cx="669.84" cy="332.02" r="3.6" fill="#ff2804"/>
<circle cx="669.84" cy="344.04" r="3.6" fill="#ff2804"/>
<circle cx="707.43" cy="380.75" r="3.6" fill="#1020b8"/>
<circle cx="713.99" cy="384.47" r="3.6" fill="#1020b8"/>
<circle cx="720.54" cy="383.37" r="3.6" fill="#1020b8"/>
<circle cx="700.88" cy="386.65" r="3.6" fill="#1020b8"/>
<circle cx="707.43" cy="388.84" r="3.6" fill="#1020b8"/>
<circle cx="713.99" cy="389.93" r="3.6" fill="#1020b8"/>
<circle cx="720.54" cy="388.84" r="3.6" fill="#1020b8"/>
<circle cx="700.88" cy="395.39" r="3.6" fill="#1020b8"/>
<circle cx="707.43" cy="393.21" r="3.6" fill="#1020b8"/>
<circle cx="713.99" cy="395.39" r="3.6" fill="#1020b8"/>
<circle cx="760.97" cy="377.26" r="3.6" fill="#d42a2c"/>
<circle cx="753.98" cy="380.75" r="3.6" fill="#d42a2c"/>
<circle cx="740.87" cy="382.94" r="3.6" fill="#d42a2c"/>
<circle cx="746.77" cy="385.56" r="3.6" fill="#d42a2c"/>
<circle cx="753.98" cy="386.65" r="3.6" fill="#d42a2c"/>
<circle cx="760.97" cy="386.65" r="3.6" fill="#d42a2c"/>
<circle cx="741.30" cy="389.93" r="3.6" fill="#d42a2c"/>
<circle cx="747.86" cy="391.02" r="3.6" fill="#d42a2c"/>
<circle cx="753.98" cy="391.68" r="3.6" fill="#d42a2c"/>
<line x1="629.90" y1="350.45" x2="629.90" y2="355.11" stroke="#000000" stroke-width="1.8" />
<line x1="622.90" y1="350.45" x2="636.90" y2="350.45" stroke="#000000" stroke-width="1.8" />
<line x1="622.90" y1="355.11" x2="636.90" y2="355.11" stroke="#000000" stroke-width="1.8" />
<line x1="669.80" y1="315.51" x2="669.80" y2="326.46" stroke="#ff2804" stroke-width="1.8" />
<line x1="662.80" y1="315.51" x2="676.80" y2="315.51" stroke="#ff2804" stroke-width="1.8" />
<line x1="662.80" y1="326.46" x2="676.80" y2="326.46" stroke="#ff2804" stroke-width="1.8" />
<line x1="710.20" y1="387.49" x2="710.20" y2="390.98" stroke="#1020b8" stroke-width="1.8" />
<line x1="703.20" y1="387.49" x2="717.20" y2="387.49" stroke="#1020b8" stroke-width="1.8" />
<line x1="703.20" y1="390.98" x2="717.20" y2="390.98" stroke="#1020b8" stroke-width="1.8" />
<line x1="750.70" y1="384.23" x2="750.70" y2="387.72" stroke="#d42a2c" stroke-width="1.8" />
<line x1="743.70" y1="384.23" x2="757.70" y2="384.23" stroke="#d42a2c" stroke-width="1.8" />
<line x1="743.70" y1="387.72" x2="757.70" y2="387.72" stroke="#d42a2c" stroke-width="1.8" />
<line x1="602.80" y1="234.40" x2="602.80" y2="411.30" stroke="#000" stroke-width="2.2" />
<line x1="601.70" y1="410.20" x2="778.00" y2="410.20" stroke="#000" stroke-width="2.2" />
<line x1="595.40" y1="410.20" x2="602.80" y2="410.20" stroke="#000" stroke-width="2.2" />
<text x="593.70" y="414.60" font-size="12.4" font-weight="bold" stroke="#000" stroke-width="0.41" text-anchor="end" fill="#000" >0</text>
<line x1="595.40" y1="351.97" x2="602.80" y2="351.97" stroke="#000" stroke-width="2.2" />
<text x="593.70" y="356.37" font-size="12.4" font-weight="bold" stroke="#000" stroke-width="0.41" text-anchor="end" fill="#000" >5</text>
<line x1="595.40" y1="293.73" x2="602.80" y2="293.73" stroke="#000" stroke-width="2.2" />
<text x="593.70" y="298.14" font-size="12.4" font-weight="bold" stroke="#000" stroke-width="0.41" text-anchor="end" fill="#000" >10</text>
<line x1="595.40" y1="235.50" x2="602.80" y2="235.50" stroke="#000" stroke-width="2.2" />
<text x="593.70" y="239.90" font-size="12.4" font-weight="bold" stroke="#000" stroke-width="0.41" text-anchor="end" fill="#000" >15</text>
<line x1="629.90" y1="410.20" x2="629.90" y2="417.70" stroke="#000" stroke-width="2.2" />
<line x1="669.80" y1="410.20" x2="669.80" y2="417.70" stroke="#000" stroke-width="2.2" />
<line x1="710.20" y1="410.20" x2="710.20" y2="417.70" stroke="#000" stroke-width="2.2" />
<line x1="750.70" y1="410.20" x2="750.70" y2="417.70" stroke="#000" stroke-width="2.2" />
<text x="633.00" y="425.90" font-size="13.3" font-weight="bold" stroke="#000" stroke-width="0.44" text-anchor="end" fill="#000" transform="rotate(-45 633.00 425.90)">SD</text>
<text x="672.90" y="425.90" font-size="13.3" font-weight="bold" stroke="#000" stroke-width="0.44" text-anchor="end" fill="#000" transform="rotate(-45 672.90 425.90)">SD+GLN</text>
<text x="713.30" y="425.90" font-size="13.3" font-weight="bold" stroke="#000" stroke-width="0.44" text-anchor="end" fill="#000" transform="rotate(-45 713.30 425.90)">HFD</text>
<text x="753.80" y="425.90" font-size="13.3" font-weight="bold" stroke="#000" stroke-width="0.44" text-anchor="end" fill="#000" transform="rotate(-45 753.80 425.90)">HFD+GLN</text>
<text x="0.00" y="0.00" font-size="13.9" font-weight="bold" stroke="#000" stroke-width="0.46" text-anchor="middle" fill="#000" transform="translate(568.21 322.80) rotate(-90)">Water intake (ml/day)</text>
<text x="559.60" y="231.60" font-size="14" stroke="#000" stroke-width="0.18" text-anchor="middle" fill="#000" >f</text>
<text x="669.80" y="266.74" font-size="15" font-weight="bold" stroke="#000" stroke-width="0.50" text-anchor="middle" fill="#000" >***</text>
<text x="710.20" y="372.34" font-size="15" font-weight="bold" stroke="#000" stroke-width="0.50" text-anchor="middle" fill="#000" >***</text>
<text x="750.70" y="372.34" font-size="15" font-weight="bold" stroke="#000" stroke-width="0.50" text-anchor="middle" fill="#000" >***</text>
<path d="M125.45 653.60 L125.45 525.37 L148.55 525.37 L148.55 653.60" fill="#fff" stroke="#000000" stroke-width="2.9"/>
<path d="M165.15 653.60 L165.15 525.79 L188.25 525.79 L188.25 653.60" fill="#fff" stroke="#ff2804" stroke-width="2.9"/>
<path d="M204.75 653.60 L204.75 521.51 L227.85 521.51 L227.85 653.60" fill="#fff" stroke="#1020b8" stroke-width="2.9"/>
<path d="M244.45 653.60 L244.45 522.37 L267.55 522.37 L267.55 653.60" fill="#fff" stroke="#d42a2c" stroke-width="2.9"/>
<circle cx="131.39" cy="511.85" r="3.6" fill="#000000"/>
<circle cx="135.76" cy="517.32" r="3.6" fill="#000000"/>
<circle cx="143.41" cy="518.41" r="3.6" fill="#000000"/>
<circle cx="127.02" cy="519.50" r="3.6" fill="#000000"/>
<circle cx="132.48" cy="522.78" r="3.6" fill="#000000"/>
<circle cx="137.95" cy="523.87" r="3.6" fill="#000000"/>
<circle cx="127.02" cy="526.06" r="3.6" fill="#000000"/>
<circle cx="143.41" cy="524.53" r="3.6" fill="#000000"/>
<circle cx="147.78" cy="524.97" r="3.6" fill="#000000"/>
<circle cx="135.76" cy="527.15" r="3.6" fill="#000000"/>
<circle cx="142.97" cy="530.43" r="3.6" fill="#000000"/>
<circle cx="127.67" cy="528.24" r="3.6" fill="#000000"/>
<circle cx="167.45" cy="513.60" r="3.6" fill="#ff2804"/>
<circle cx="173.57" cy="511.20" r="3.6" fill="#ff2804"/>
<circle cx="172.91" cy="520.16" r="3.6" fill="#ff2804"/>
<circle cx="167.45" cy="523.87" r="3.6" fill="#ff2804"/>
<circle cx="178.37" cy="522.78" r="3.6" fill="#ff2804"/>
<circle cx="186.02" cy="522.78" r="3.6" fill="#ff2804"/>
<circle cx="172.91" cy="526.06" r="3.6" fill="#ff2804"/>
<circle cx="167.45" cy="533.71" r="3.6" fill="#ff2804"/>
<circle cx="179.47" cy="533.71" r="3.6" fill="#ff2804"/>
<circle cx="186.02" cy="531.52" r="3.6" fill="#ff2804"/>
<circle cx="206.78" cy="520.59" r="3.6" fill="#1020b8"/>
<circle cx="214.43" cy="515.13" r="3.6" fill="#1020b8"/>
<circle cx="222.08" cy="515.13" r="3.6" fill="#1020b8"/>
<circle cx="226.45" cy="519.50" r="3.6" fill="#1020b8"/>
<circle cx="211.15" cy="521.69" r="3.6" fill="#1020b8"/>
<circle cx="217.71" cy="522.78" r="3.6" fill="#1020b8"/>
<circle cx="224.27" cy="522.78" r="3.6" fill="#1020b8"/>
<circle cx="210.06" cy="528.24" r="3.6" fill="#1020b8"/>
<circle cx="217.71" cy="524.97" r="3.6" fill="#1020b8"/>
<circle cx="225.36" cy="520.59" r="3.6" fill="#1020b8"/>
<circle cx="246.12" cy="521.69" r="3.6" fill="#d42a2c"/>
<circle cx="251.58" cy="517.32" r="3.6" fill="#d42a2c"/>
<circle cx="259.23" cy="514.04" r="3.6" fill="#d42a2c"/>
<circle cx="265.79" cy="521.69" r="3.6" fill="#d42a2c"/>
<circle cx="251.58" cy="522.78" r="3.6" fill="#d42a2c"/>
<circle cx="257.05" cy="521.69" r="3.6" fill="#d42a2c"/>
<circle cx="261.42" cy="520.59" r="3.6" fill="#d42a2c"/>
<circle cx="258.14" cy="527.15" r="3.6" fill="#d42a2c"/>
<circle cx="254.86" cy="519.50" r="3.6" fill="#d42a2c"/>
<circle cx="264.69" cy="522.78" r="3.6" fill="#d42a2c"/>
<line x1="137.00" y1="522.63" x2="137.00" y2="525.20" stroke="#000000" stroke-width="1.8" />
<line x1="130.00" y1="522.63" x2="144.00" y2="522.63" stroke="#000000" stroke-width="1.8" />
<line x1="130.00" y1="525.20" x2="144.00" y2="525.20" stroke="#000000" stroke-width="1.8" />
<line x1="176.70" y1="522.63" x2="176.70" y2="526.06" stroke="#ff2804" stroke-width="1.8" />
<line x1="169.70" y1="522.63" x2="183.70" y2="522.63" stroke="#ff2804" stroke-width="1.8" />
<line x1="169.70" y1="526.06" x2="183.70" y2="526.06" stroke="#ff2804" stroke-width="1.8" />
<line x1="216.30" y1="519.21" x2="216.30" y2="520.92" stroke="#1020b8" stroke-width="1.8" />
<line x1="209.30" y1="519.21" x2="223.30" y2="519.21" stroke="#1020b8" stroke-width="1.8" />
<line x1="209.30" y1="520.92" x2="223.30" y2="520.92" stroke="#1020b8" stroke-width="1.8" />
<line x1="256.00" y1="520.06" x2="256.00" y2="521.78" stroke="#d42a2c" stroke-width="1.8" />
<line x1="249.00" y1="520.06" x2="263.00" y2="520.06" stroke="#d42a2c" stroke-width="1.8" />
<line x1="249.00" y1="521.78" x2="263.00" y2="521.78" stroke="#d42a2c" stroke-width="1.8" />
<line x1="111.00" y1="481.30" x2="111.00" y2="654.70" stroke="#000" stroke-width="2.2" />
<line x1="109.90" y1="653.60" x2="282.70" y2="653.60" stroke="#000" stroke-width="2.2" />
<line x1="103.60" y1="653.60" x2="111.00" y2="653.60" stroke="#000" stroke-width="2.2" />
<text x="101.90" y="658.22" font-size="13" font-weight="bold" stroke="#000" stroke-width="0.43" text-anchor="end" fill="#000" >20</text>
<line x1="103.60" y1="610.80" x2="111.00" y2="610.80" stroke="#000" stroke-width="2.2" />
<text x="101.90" y="615.41" font-size="13" font-weight="bold" stroke="#000" stroke-width="0.43" text-anchor="end" fill="#000" >25</text>
<line x1="103.60" y1="568.00" x2="111.00" y2="568.00" stroke="#000" stroke-width="2.2" />
<text x="101.90" y="572.62" font-size="13" font-weight="bold" stroke="#000" stroke-width="0.43" text-anchor="end" fill="#000" >30</text>
<line x1="103.60" y1="525.20" x2="111.00" y2="525.20" stroke="#000" stroke-width="2.2" />
<text x="101.90" y="529.82" font-size="13" font-weight="bold" stroke="#000" stroke-width="0.43" text-anchor="end" fill="#000" >35</text>
<line x1="103.60" y1="482.40" x2="111.00" y2="482.40" stroke="#000" stroke-width="2.2" />
<text x="101.90" y="487.01" font-size="13" font-weight="bold" stroke="#000" stroke-width="0.43" text-anchor="end" fill="#000" >40</text>
<line x1="137.00" y1="653.60" x2="137.00" y2="661.10" stroke="#000" stroke-width="2.2" />
<line x1="176.70" y1="653.60" x2="176.70" y2="661.10" stroke="#000" stroke-width="2.2" />
<line x1="216.30" y1="653.60" x2="216.30" y2="661.10" stroke="#000" stroke-width="2.2" />
<line x1="256.00" y1="653.60" x2="256.00" y2="661.10" stroke="#000" stroke-width="2.2" />
<text x="140.10" y="669.40" font-size="12.9" font-weight="bold" stroke="#000" stroke-width="0.43" text-anchor="end" fill="#000" transform="rotate(-45 140.10 669.40)">SD</text>
<text x="179.80" y="669.40" font-size="12.9" font-weight="bold" stroke="#000" stroke-width="0.43" text-anchor="end" fill="#000" transform="rotate(-45 179.80 669.40)">SD+GLN</text>
<text x="219.40" y="669.40" font-size="12.9" font-weight="bold" stroke="#000" stroke-width="0.43" text-anchor="end" fill="#000" transform="rotate(-45 219.40 669.40)">HFD</text>
<text x="259.10" y="669.40" font-size="12.9" font-weight="bold" stroke="#000" stroke-width="0.43" text-anchor="end" fill="#000" transform="rotate(-45 259.10 669.40)">HFD+GLN</text>
<text x="0.00" y="0.00" font-size="13.5" font-weight="bold" stroke="#000" stroke-width="0.45" text-anchor="middle" fill="#000" transform="translate(72.91 568.00) rotate(-90)">Rectal temperature (°C)</text>
<text x="47.00" y="470.70" font-size="14" stroke="#000" stroke-width="0.18" text-anchor="middle" fill="#000" >g</text>
<path d="M374.00 652.80 L374.00 595.03 L396.40 595.03 L396.40 652.80" fill="#fff" stroke="#000000" stroke-width="2.9"/>
<path d="M412.20 652.80 L412.20 602.71 L434.60 602.71 L434.60 652.80" fill="#fff" stroke="#ff2804" stroke-width="2.9"/>
<path d="M450.20 652.80 L450.20 568.71 L472.60 568.71 L472.60 652.80" fill="#fff" stroke="#1020b8" stroke-width="2.9"/>
<path d="M488.40 652.80 L488.40 591.74 L510.80 591.74 L510.80 652.80" fill="#fff" stroke="#d42a2c" stroke-width="2.9"/>
<circle cx="376.18" cy="579.07" r="3.6" fill="#000000"/>
<circle cx="385.24" cy="581.00" r="3.6" fill="#000000"/>
<circle cx="394.88" cy="579.07" r="3.6" fill="#000000"/>
<circle cx="376.18" cy="588.71" r="3.6" fill="#000000"/>
<circle cx="394.88" cy="588.32" r="3.6" fill="#000000"/>
<circle cx="385.24" cy="596.03" r="3.6" fill="#000000"/>
<circle cx="380.42" cy="605.67" r="3.6" fill="#000000"/>
<circle cx="390.06" cy="605.67" r="3.6" fill="#000000"/>
<circle cx="385.24" cy="611.84" r="3.6" fill="#000000"/>
<circle cx="393.92" cy="595.07" r="3.6" fill="#000000"/>
<circle cx="419.95" cy="581.00" r="3.6" fill="#ff2804"/>
<circle cx="426.69" cy="579.07" r="3.6" fill="#ff2804"/>
<circle cx="417.05" cy="596.03" r="3.6" fill="#ff2804"/>
<circle cx="423.80" cy="595.07" r="3.6" fill="#ff2804"/>
<circle cx="429.58" cy="595.07" r="3.6" fill="#ff2804"/>
<circle cx="425.73" cy="604.71" r="3.6" fill="#ff2804"/>
<circle cx="414.16" cy="610.49" r="3.6" fill="#ff2804"/>
<circle cx="432.48" cy="611.46" r="3.6" fill="#ff2804"/>
<circle cx="426.69" cy="616.28" r="3.6" fill="#ff2804"/>
<circle cx="414.16" cy="617.24" r="3.6" fill="#ff2804"/>
<circle cx="461.39" cy="500.03" r="3.6" fill="#1020b8"/>
<circle cx="470.65" cy="558.44" r="3.6" fill="#1020b8"/>
<circle cx="464.29" cy="560.95" r="3.6" fill="#1020b8"/>
<circle cx="452.72" cy="565.19" r="3.6" fill="#1020b8"/>
<circle cx="457.54" cy="565.19" r="3.6" fill="#1020b8"/>
<circle cx="464.29" cy="567.12" r="3.6" fill="#1020b8"/>
<circle cx="470.65" cy="569.04" r="3.6" fill="#1020b8"/>
<circle cx="461.39" cy="580.23" r="3.6" fill="#1020b8"/>
<circle cx="457.54" cy="601.82" r="3.6" fill="#1020b8"/>
<circle cx="464.87" cy="599.50" r="3.6" fill="#1020b8"/>
<circle cx="499.95" cy="568.08" r="3.6" fill="#d42a2c"/>
<circle cx="504.19" cy="565.19" r="3.6" fill="#d42a2c"/>
<circle cx="499.57" cy="584.47" r="3.6" fill="#d42a2c"/>
<circle cx="494.55" cy="598.93" r="3.6" fill="#d42a2c"/>
<circle cx="494.55" cy="605.67" r="3.6" fill="#d42a2c"/>
<circle cx="504.19" cy="604.71" r="3.6" fill="#d42a2c"/>
<circle cx="492.24" cy="594.11" r="3.6" fill="#d42a2c"/>
<circle cx="499.95" cy="597.00" r="3.6" fill="#d42a2c"/>
<line x1="385.20" y1="589.19" x2="385.20" y2="597.97" stroke="#000000" stroke-width="1.8" />
<line x1="378.20" y1="589.19" x2="392.20" y2="589.19" stroke="#000000" stroke-width="1.8" />
<line x1="378.20" y1="597.97" x2="392.20" y2="597.97" stroke="#000000" stroke-width="1.8" />
<line x1="423.40" y1="596.87" x2="423.40" y2="605.64" stroke="#ff2804" stroke-width="1.8" />
<line x1="416.40" y1="596.87" x2="430.40" y2="596.87" stroke="#ff2804" stroke-width="1.8" />
<line x1="416.40" y1="605.64" x2="430.40" y2="605.64" stroke="#ff2804" stroke-width="1.8" />
<line x1="461.40" y1="558.49" x2="461.40" y2="576.03" stroke="#1020b8" stroke-width="1.8" />
<line x1="454.40" y1="558.49" x2="468.40" y2="558.49" stroke="#1020b8" stroke-width="1.8" />
<line x1="454.40" y1="576.03" x2="468.40" y2="576.03" stroke="#1020b8" stroke-width="1.8" />
<line x1="499.60" y1="585.90" x2="499.60" y2="594.68" stroke="#d42a2c" stroke-width="1.8" />
<line x1="492.60" y1="585.90" x2="506.60" y2="585.90" stroke="#d42a2c" stroke-width="1.8" />
<line x1="492.60" y1="594.68" x2="506.60" y2="594.68" stroke="#d42a2c" stroke-width="1.8" />
<line x1="360.00" y1="487.20" x2="360.00" y2="653.90" stroke="#000" stroke-width="2.2" />
<line x1="358.90" y1="652.80" x2="524.00" y2="652.80" stroke="#000" stroke-width="2.2" />
<line x1="352.60" y1="652.80" x2="360.00" y2="652.80" stroke="#000" stroke-width="2.2" />
<text x="350.90" y="657.20" font-size="12.4" font-weight="bold" stroke="#000" stroke-width="0.41" text-anchor="end" fill="#000" >0.0</text>
<line x1="352.60" y1="597.97" x2="360.00" y2="597.97" stroke="#000" stroke-width="2.2" />
<text x="350.90" y="602.37" font-size="12.4" font-weight="bold" stroke="#000" stroke-width="0.41" text-anchor="end" fill="#000" >0.5</text>
<line x1="352.60" y1="543.13" x2="360.00" y2="543.13" stroke="#000" stroke-width="2.2" />
<text x="350.90" y="547.54" font-size="12.4" font-weight="bold" stroke="#000" stroke-width="0.41" text-anchor="end" fill="#000" >1.0</text>
<line x1="352.60" y1="488.30" x2="360.00" y2="488.30" stroke="#000" stroke-width="2.2" />
<text x="350.90" y="492.70" font-size="12.4" font-weight="bold" stroke="#000" stroke-width="0.41" text-anchor="end" fill="#000" >1.5</text>
<line x1="385.20" y1="652.80" x2="385.20" y2="660.30" stroke="#000" stroke-width="2.2" />
<line x1="423.40" y1="652.80" x2="423.40" y2="660.30" stroke="#000" stroke-width="2.2" />
<line x1="461.40" y1="652.80" x2="461.40" y2="660.30" stroke="#000" stroke-width="2.2" />
<line x1="499.60" y1="652.80" x2="499.60" y2="660.30" stroke="#000" stroke-width="2.2" />
<text x="388.30" y="666.80" font-size="12.5" font-weight="bold" stroke="#000" stroke-width="0.42" text-anchor="end" fill="#000" transform="rotate(-45 388.30 666.80)">SD</text>
<text x="426.50" y="666.80" font-size="12.5" font-weight="bold" stroke="#000" stroke-width="0.42" text-anchor="end" fill="#000" transform="rotate(-45 426.50 666.80)">SD+GLN</text>
<text x="464.50" y="666.80" font-size="12.5" font-weight="bold" stroke="#000" stroke-width="0.42" text-anchor="end" fill="#000" transform="rotate(-45 464.50 666.80)">HFD</text>
<text x="502.70" y="666.80" font-size="12.5" font-weight="bold" stroke="#000" stroke-width="0.42" text-anchor="end" fill="#000" transform="rotate(-45 502.70 666.80)">HFD+GLN</text>
<text x="0.00" y="0.00" font-size="13.4" font-weight="bold" stroke="#000" stroke-width="0.45" text-anchor="middle" fill="#000" transform="translate(322.48 571.00) rotate(-90)">Serum TG (mmol/L)</text>
<text x="307.70" y="481.00" font-size="14" stroke="#000" stroke-width="0.18" text-anchor="middle" fill="#000" >h</text>
<text x="461.40" y="492.53" font-size="13" font-weight="bold" stroke="#000" stroke-width="0.43" text-anchor="middle" fill="#000" >**</text>
<text x="499.60" y="489.11" font-size="10" font-weight="bold" stroke="#000" stroke-width="0.33" text-anchor="middle" fill="#000" >##</text>
<path d="M614.90 656.70 L614.90 593.34 L637.50 593.34 L637.50 656.70" fill="#fff" stroke="#000000" stroke-width="2.9"/>
<path d="M652.90 656.70 L652.90 602.60 L675.50 602.60 L675.50 656.70" fill="#fff" stroke="#ff2804" stroke-width="2.9"/>
<path d="M690.40 656.70 L690.40 569.68 L713.00 569.68 L713.00 656.70" fill="#fff" stroke="#1020b8" stroke-width="2.9"/>
<path d="M728.40 656.70 L728.40 574.82 L751.00 574.82 L751.00 656.70" fill="#fff" stroke="#d42a2c" stroke-width="2.9"/>
<circle cx="621.45" cy="583.03" r="3.6" fill="#000000"/>
<circle cx="630.71" cy="583.65" r="3.6" fill="#000000"/>
<circle cx="616.31" cy="590.85" r="3.6" fill="#000000"/>
<circle cx="625.57" cy="589.82" r="3.6" fill="#000000"/>
<circle cx="635.85" cy="591.88" r="3.6" fill="#000000"/>
<circle cx="621.45" cy="594.96" r="3.6" fill="#000000"/>
<circle cx="630.71" cy="595.99" r="3.6" fill="#000000"/>
<circle cx="616.31" cy="598.05" r="3.6" fill="#000000"/>
<circle cx="635.44" cy="599.07" r="3.6" fill="#000000"/>
<circle cx="626.18" cy="592.90" r="3.6" fill="#000000"/>
<circle cx="654.77" cy="586.74" r="3.6" fill="#ff2804"/>
<circle cx="664.23" cy="589.82" r="3.6" fill="#ff2804"/>
<circle cx="654.77" cy="596.61" r="3.6" fill="#ff2804"/>
<circle cx="664.23" cy="598.66" r="3.6" fill="#ff2804"/>
<circle cx="673.89" cy="596.61" r="3.6" fill="#ff2804"/>
<circle cx="659.50" cy="602.16" r="3.6" fill="#ff2804"/>
<circle cx="668.75" cy="602.16" r="3.6" fill="#ff2804"/>
<circle cx="664.23" cy="609.36" r="3.6" fill="#ff2804"/>
<circle cx="654.77" cy="616.56" r="3.6" fill="#ff2804"/>
<circle cx="673.89" cy="612.44" r="3.6" fill="#ff2804"/>
<circle cx="701.66" cy="536.89" r="3.6" fill="#1020b8"/>
<circle cx="705.15" cy="561.57" r="3.6" fill="#1020b8"/>
<circle cx="692.40" cy="564.45" r="3.6" fill="#1020b8"/>
<circle cx="698.57" cy="564.04" r="3.6" fill="#1020b8"/>
<circle cx="710.91" cy="567.12" r="3.6" fill="#1020b8"/>
<circle cx="695.49" cy="571.23" r="3.6" fill="#1020b8"/>
<circle cx="705.15" cy="573.29" r="3.6" fill="#1020b8"/>
<circle cx="698.57" cy="577.40" r="3.6" fill="#1020b8"/>
<circle cx="705.15" cy="582.54" r="3.6" fill="#1020b8"/>
<circle cx="698.57" cy="585.01" r="3.6" fill="#1020b8"/>
<circle cx="730.45" cy="565.68" r="3.6" fill="#d42a2c"/>
<circle cx="735.59" cy="564.04" r="3.6" fill="#d42a2c"/>
<circle cx="744.85" cy="566.09" r="3.6" fill="#d42a2c"/>
<circle cx="748.96" cy="569.79" r="3.6" fill="#d42a2c"/>
<circle cx="732.51" cy="574.32" r="3.6" fill="#d42a2c"/>
<circle cx="739.70" cy="575.35" r="3.6" fill="#d42a2c"/>
<circle cx="744.85" cy="576.38" r="3.6" fill="#d42a2c"/>
<circle cx="739.70" cy="579.46" r="3.6" fill="#d42a2c"/>
<circle cx="735.59" cy="572.26" r="3.6" fill="#d42a2c"/>
<circle cx="739.70" cy="595.30" r="3.6" fill="#d42a2c"/>
<line x1="626.20" y1="589.83" x2="626.20" y2="593.95" stroke="#000000" stroke-width="1.8" />
<line x1="619.20" y1="589.83" x2="633.20" y2="589.83" stroke="#000000" stroke-width="1.8" />
<line x1="619.20" y1="593.95" x2="633.20" y2="593.95" stroke="#000000" stroke-width="1.8" />
<line x1="664.20" y1="598.06" x2="664.20" y2="604.23" stroke="#ff2804" stroke-width="1.8" />
<line x1="657.20" y1="598.06" x2="671.20" y2="598.06" stroke="#ff2804" stroke-width="1.8" />
<line x1="657.20" y1="604.23" x2="671.20" y2="604.23" stroke="#ff2804" stroke-width="1.8" />
<line x1="701.70" y1="564.11" x2="701.70" y2="572.34" stroke="#1020b8" stroke-width="1.8" />
<line x1="694.70" y1="564.11" x2="708.70" y2="564.11" stroke="#1020b8" stroke-width="1.8" />
<line x1="694.70" y1="572.34" x2="708.70" y2="572.34" stroke="#1020b8" stroke-width="1.8" />
<line x1="739.70" y1="570.29" x2="739.70" y2="576.46" stroke="#d42a2c" stroke-width="1.8" />
<line x1="732.70" y1="570.29" x2="746.70" y2="570.29" stroke="#d42a2c" stroke-width="1.8" />
<line x1="732.70" y1="576.46" x2="746.70" y2="576.46" stroke="#d42a2c" stroke-width="1.8" />
<line x1="601.20" y1="491.00" x2="601.20" y2="657.80" stroke="#000" stroke-width="2.2" />
<line x1="600.10" y1="656.70" x2="765.80" y2="656.70" stroke="#000" stroke-width="2.2" />
<line x1="593.80" y1="656.70" x2="601.20" y2="656.70" stroke="#000" stroke-width="2.2" />
<text x="592.10" y="661.10" font-size="12.4" font-weight="bold" stroke="#000" stroke-width="0.41" text-anchor="end" fill="#000" >0</text>
<line x1="593.80" y1="615.55" x2="601.20" y2="615.55" stroke="#000" stroke-width="2.2" />
<text x="592.10" y="619.95" font-size="12.4" font-weight="bold" stroke="#000" stroke-width="0.41" text-anchor="end" fill="#000" >2</text>
<line x1="593.80" y1="574.40" x2="601.20" y2="574.40" stroke="#000" stroke-width="2.2" />
<text x="592.10" y="578.80" font-size="12.4" font-weight="bold" stroke="#000" stroke-width="0.41" text-anchor="end" fill="#000" >4</text>
<line x1="593.80" y1="533.25" x2="601.20" y2="533.25" stroke="#000" stroke-width="2.2" />
<text x="592.10" y="537.65" font-size="12.4" font-weight="bold" stroke="#000" stroke-width="0.41" text-anchor="end" fill="#000" >6</text>
<line x1="593.80" y1="492.10" x2="601.20" y2="492.10" stroke="#000" stroke-width="2.2" />
<text x="592.10" y="496.50" font-size="12.4" font-weight="bold" stroke="#000" stroke-width="0.41" text-anchor="end" fill="#000" >8</text>
<line x1="626.20" y1="656.70" x2="626.20" y2="664.20" stroke="#000" stroke-width="2.2" />
<line x1="664.20" y1="656.70" x2="664.20" y2="664.20" stroke="#000" stroke-width="2.2" />
<line x1="701.70" y1="656.70" x2="701.70" y2="664.20" stroke="#000" stroke-width="2.2" />
<line x1="739.70" y1="656.70" x2="739.70" y2="664.20" stroke="#000" stroke-width="2.2" />
<text x="629.30" y="672.90" font-size="12.5" font-weight="bold" stroke="#000" stroke-width="0.42" text-anchor="end" fill="#000" transform="rotate(-45 629.30 672.90)">SD</text>
<text x="667.30" y="672.90" font-size="12.5" font-weight="bold" stroke="#000" stroke-width="0.42" text-anchor="end" fill="#000" transform="rotate(-45 667.30 672.90)">SD+GLN</text>
<text x="704.80" y="672.90" font-size="12.5" font-weight="bold" stroke="#000" stroke-width="0.42" text-anchor="end" fill="#000" transform="rotate(-45 704.80 672.90)">HFD</text>
<text x="742.80" y="672.90" font-size="12.5" font-weight="bold" stroke="#000" stroke-width="0.42" text-anchor="end" fill="#000" transform="rotate(-45 742.80 672.90)">HFD+GLN</text>
<text x="0.00" y="0.00" font-size="13.0" font-weight="bold" stroke="#000" stroke-width="0.43" text-anchor="middle" fill="#000" transform="translate(575.38 574.70) rotate(-90)">Serum CHOL (mmol/L)</text>
<text x="559.90" y="483.00" font-size="14" stroke="#000" stroke-width="0.18" text-anchor="middle" fill="#000" >i</text>
<text x="663.60" y="510.33" font-size="13" font-weight="bold" stroke="#000" stroke-width="0.43" text-anchor="middle" fill="#000" >*</text>
<text x="701.20" y="511.14" font-size="14.6" font-weight="bold" stroke="#000" stroke-width="0.49" text-anchor="middle" fill="#000" >***</text>
<text x="740.10" y="511.14" font-size="14.6" font-weight="bold" stroke="#000" stroke-width="0.49" text-anchor="middle" fill="#000" >***</text>
<path d="M123.85 907.50 L123.85 811.90 L148.55 811.90 L148.55 907.50" fill="#fff" stroke="#000000" stroke-width="2.9"/>
<path d="M164.95 907.50 L164.95 826.21 L189.65 826.21 L189.65 907.50" fill="#fff" stroke="#ff2804" stroke-width="2.9"/>
<path d="M206.05 907.50 L206.05 787.75 L230.75 787.75 L230.75 907.50" fill="#fff" stroke="#1020b8" stroke-width="2.9"/>
<path d="M247.35 907.50 L247.35 791.32 L272.05 791.32 L272.05 907.50" fill="#fff" stroke="#d42a2c" stroke-width="2.9"/>
<circle cx="135.76" cy="793.21" r="3.6" fill="#000000"/>
<circle cx="132.48" cy="801.29" r="3.6" fill="#000000"/>
<circle cx="139.04" cy="801.29" r="3.6" fill="#000000"/>
<circle cx="145.59" cy="808.51" r="3.6" fill="#000000"/>
<circle cx="125.93" cy="812.88" r="3.6" fill="#000000"/>
<circle cx="132.48" cy="813.97" r="3.6" fill="#000000"/>
<circle cx="145.59" cy="816.15" r="3.6" fill="#000000"/>
<circle cx="125.93" cy="821.62" r="3.6" fill="#000000"/>
<circle cx="139.04" cy="820.96" r="3.6" fill="#000000"/>
<circle cx="135.76" cy="810.69" r="3.6" fill="#000000"/>
<circle cx="167.01" cy="807.41" r="3.6" fill="#ff2804"/>
<circle cx="187.55" cy="804.13" r="3.6" fill="#ff2804"/>
<circle cx="187.55" cy="813.97" r="3.6" fill="#ff2804"/>
<circle cx="167.01" cy="820.52" r="3.6" fill="#ff2804"/>
<circle cx="177.28" cy="819.43" r="3.6" fill="#ff2804"/>
<circle cx="177.28" cy="829.27" r="3.6" fill="#ff2804"/>
<circle cx="167.45" cy="832.54" r="3.6" fill="#ff2804"/>
<circle cx="187.55" cy="833.20" r="3.6" fill="#ff2804"/>
<circle cx="181.65" cy="840.85" r="3.6" fill="#ff2804"/>
<circle cx="171.82" cy="846.31" r="3.6" fill="#ff2804"/>
<circle cx="218.37" cy="749.50" r="3.6" fill="#1020b8"/>
<circle cx="218.37" cy="770.70" r="3.6" fill="#1020b8"/>
<circle cx="215.09" cy="781.63" r="3.6" fill="#1020b8"/>
<circle cx="208.53" cy="785.56" r="3.6" fill="#1020b8"/>
<circle cx="215.09" cy="789.93" r="3.6" fill="#1020b8"/>
<circle cx="222.08" cy="789.93" r="3.6" fill="#1020b8"/>
<circle cx="208.53" cy="795.39" r="3.6" fill="#1020b8"/>
<circle cx="228.20" cy="796.49" r="3.6" fill="#1020b8"/>
<circle cx="208.53" cy="803.04" r="3.6" fill="#1020b8"/>
<circle cx="222.08" cy="801.95" r="3.6" fill="#1020b8"/>
<circle cx="254.86" cy="773.54" r="3.6" fill="#d42a2c"/>
<circle cx="259.67" cy="771.35" r="3.6" fill="#d42a2c"/>
<circle cx="264.69" cy="774.63" r="3.6" fill="#d42a2c"/>
<circle cx="249.40" cy="791.02" r="3.6" fill="#d42a2c"/>
<circle cx="254.86" cy="792.12" r="3.6" fill="#d42a2c"/>
<circle cx="264.69" cy="794.30" r="3.6" fill="#d42a2c"/>
<circle cx="270.16" cy="791.02" r="3.6" fill="#d42a2c"/>
<circle cx="259.67" cy="795.39" r="3.6" fill="#d42a2c"/>
<circle cx="254.86" cy="794.30" r="3.6" fill="#d42a2c"/>
<circle cx="259.67" cy="821.18" r="3.6" fill="#d42a2c"/>
<line x1="136.20" y1="807.32" x2="136.20" y2="813.58" stroke="#000000" stroke-width="1.8" />
<line x1="129.20" y1="807.32" x2="143.20" y2="807.32" stroke="#000000" stroke-width="1.8" />
<line x1="129.20" y1="813.58" x2="143.20" y2="813.58" stroke="#000000" stroke-width="1.8" />
<line x1="177.30" y1="820.29" x2="177.30" y2="829.23" stroke="#ff2804" stroke-width="1.8" />
<line x1="170.30" y1="820.29" x2="184.30" y2="820.29" stroke="#ff2804" stroke-width="1.8" />
<line x1="170.30" y1="829.23" x2="184.30" y2="829.23" stroke="#ff2804" stroke-width="1.8" />
<line x1="218.40" y1="781.38" x2="218.40" y2="791.22" stroke="#1020b8" stroke-width="1.8" />
<line x1="211.40" y1="781.38" x2="225.40" y2="781.38" stroke="#1020b8" stroke-width="1.8" />
<line x1="211.40" y1="791.22" x2="225.40" y2="791.22" stroke="#1020b8" stroke-width="1.8" />
<line x1="259.70" y1="784.95" x2="259.70" y2="794.79" stroke="#d42a2c" stroke-width="1.8" />
<line x1="252.70" y1="784.95" x2="266.70" y2="784.95" stroke="#d42a2c" stroke-width="1.8" />
<line x1="252.70" y1="794.79" x2="266.70" y2="794.79" stroke="#d42a2c" stroke-width="1.8" />
<line x1="108.80" y1="727.50" x2="108.80" y2="908.60" stroke="#000" stroke-width="2.2" />
<line x1="107.70" y1="907.50" x2="287.00" y2="907.50" stroke="#000" stroke-width="2.2" />
<line x1="101.40" y1="907.50" x2="108.80" y2="907.50" stroke="#000" stroke-width="2.2" />
<text x="99.70" y="912.04" font-size="12.8" font-weight="bold" stroke="#000" stroke-width="0.43" text-anchor="end" fill="#000" >0</text>
<line x1="101.40" y1="862.77" x2="108.80" y2="862.77" stroke="#000" stroke-width="2.2" />
<text x="99.70" y="867.32" font-size="12.8" font-weight="bold" stroke="#000" stroke-width="0.43" text-anchor="end" fill="#000" >1</text>
<line x1="101.40" y1="818.05" x2="108.80" y2="818.05" stroke="#000" stroke-width="2.2" />
<text x="99.70" y="822.59" font-size="12.8" font-weight="bold" stroke="#000" stroke-width="0.43" text-anchor="end" fill="#000" >2</text>
<line x1="101.40" y1="773.33" x2="108.80" y2="773.33" stroke="#000" stroke-width="2.2" />
<text x="99.70" y="777.87" font-size="12.8" font-weight="bold" stroke="#000" stroke-width="0.43" text-anchor="end" fill="#000" >3</text>
<line x1="101.40" y1="728.60" x2="108.80" y2="728.60" stroke="#000" stroke-width="2.2" />
<text x="99.70" y="733.14" font-size="12.8" font-weight="bold" stroke="#000" stroke-width="0.43" text-anchor="end" fill="#000" >4</text>
<line x1="136.20" y1="907.50" x2="136.20" y2="915.00" stroke="#000" stroke-width="2.2" />
<line x1="177.30" y1="907.50" x2="177.30" y2="915.00" stroke="#000" stroke-width="2.2" />
<line x1="218.40" y1="907.50" x2="218.40" y2="915.00" stroke="#000" stroke-width="2.2" />
<line x1="259.70" y1="907.50" x2="259.70" y2="915.00" stroke="#000" stroke-width="2.2" />
<text x="139.30" y="924.00" font-size="13.4" font-weight="bold" stroke="#000" stroke-width="0.45" text-anchor="end" fill="#000" transform="rotate(-45 139.30 924.00)">SD</text>
<text x="180.40" y="924.00" font-size="13.4" font-weight="bold" stroke="#000" stroke-width="0.45" text-anchor="end" fill="#000" transform="rotate(-45 180.40 924.00)">SD+GLN</text>
<text x="221.50" y="924.00" font-size="13.4" font-weight="bold" stroke="#000" stroke-width="0.45" text-anchor="end" fill="#000" transform="rotate(-45 221.50 924.00)">HFD</text>
<text x="262.80" y="924.00" font-size="13.4" font-weight="bold" stroke="#000" stroke-width="0.45" text-anchor="end" fill="#000" transform="rotate(-45 262.80 924.00)">HFD+GLN</text>
<text x="0.00" y="0.00" font-size="14.5" font-weight="bold" stroke="#000" stroke-width="0.48" text-anchor="middle" fill="#000" transform="translate(78.27 818.00) rotate(-90)">Serum HDL (mmol/L)</text>
<text x="48.20" y="706.00" font-size="14" stroke="#000" stroke-width="0.18" text-anchor="middle" fill="#000" >j</text>
<text x="177.30" y="743.43" font-size="14" font-weight="bold" stroke="#000" stroke-width="0.47" text-anchor="middle" fill="#000" >*</text>
<text x="218.40" y="742.74" font-size="15.6" font-weight="bold" stroke="#000" stroke-width="0.52" text-anchor="middle" fill="#000" >***</text>
<text x="259.70" y="742.64" font-size="15.4" font-weight="bold" stroke="#000" stroke-width="0.51" text-anchor="middle" fill="#000" >**</text>
<path d="M377.60 902.20 L377.60 848.83 L401.40 848.83 L401.40 902.20" fill="#fff" stroke="#000000" stroke-width="2.9"/>
<path d="M417.70 902.20 L417.70 857.97 L441.50 857.97 L441.50 902.20" fill="#fff" stroke="#ff2804" stroke-width="2.9"/>
<path d="M456.40 902.20 L456.40 804.30 L480.20 804.30 L480.20 902.20" fill="#fff" stroke="#1020b8" stroke-width="2.9"/>
<path d="M496.30 902.20 L496.30 824.85 L520.10 824.85 L520.10 902.20" fill="#fff" stroke="#d42a2c" stroke-width="2.9"/>
<circle cx="389.54" cy="823.65" r="3.6" fill="#000000"/>
<circle cx="389.54" cy="830.85" r="3.6" fill="#000000"/>
<circle cx="389.54" cy="837.63" r="3.6" fill="#000000"/>
<circle cx="379.87" cy="846.27" r="3.6" fill="#000000"/>
<circle cx="398.79" cy="846.27" r="3.6" fill="#000000"/>
<circle cx="379.87" cy="855.53" r="3.6" fill="#000000"/>
<circle cx="389.54" cy="859.23" r="3.6" fill="#000000"/>
<circle cx="398.79" cy="860.05" r="3.6" fill="#000000"/>
<circle cx="379.87" cy="866.22" r="3.6" fill="#000000"/>
<circle cx="424.50" cy="839.07" r="3.6" fill="#ff2804"/>
<circle cx="429.64" cy="837.02" r="3.6" fill="#ff2804"/>
<circle cx="433.75" cy="845.24" r="3.6" fill="#ff2804"/>
<circle cx="428.61" cy="848.95" r="3.6" fill="#ff2804"/>
<circle cx="419.36" cy="859.64" r="3.6" fill="#ff2804"/>
<circle cx="424.50" cy="863.75" r="3.6" fill="#ff2804"/>
<circle cx="431.70" cy="864.78" r="3.6" fill="#ff2804"/>
<circle cx="438.89" cy="861.70" r="3.6" fill="#ff2804"/>
<circle cx="420.39" cy="865.81" r="3.6" fill="#ff2804"/>
<circle cx="437.87" cy="869.92" r="3.6" fill="#ff2804"/>
<circle cx="468.30" cy="744.06" r="3.6" fill="#1020b8"/>
<circle cx="465.01" cy="788.28" r="3.6" fill="#1020b8"/>
<circle cx="471.80" cy="788.28" r="3.6" fill="#1020b8"/>
<circle cx="465.01" cy="802.26" r="3.6" fill="#1020b8"/>
<circle cx="458.43" cy="807.40" r="3.6" fill="#1020b8"/>
<circle cx="465.01" cy="813.57" r="3.6" fill="#1020b8"/>
<circle cx="471.80" cy="810.49" r="3.6" fill="#1020b8"/>
<circle cx="477.97" cy="810.49" r="3.6" fill="#1020b8"/>
<circle cx="471.80" cy="818.30" r="3.6" fill="#1020b8"/>
<circle cx="468.30" cy="838.87" r="3.6" fill="#1020b8"/>
<circle cx="501.62" cy="814.60" r="3.6" fill="#d42a2c"/>
<circle cx="506.76" cy="812.54" r="3.6" fill="#d42a2c"/>
<circle cx="513.96" cy="810.49" r="3.6" fill="#d42a2c"/>
<circle cx="509.85" cy="815.01" r="3.6" fill="#d42a2c"/>
<circle cx="498.53" cy="827.97" r="3.6" fill="#d42a2c"/>
<circle cx="504.70" cy="829.00" r="3.6" fill="#d42a2c"/>
<circle cx="513.96" cy="832.70" r="3.6" fill="#d42a2c"/>
<circle cx="499.56" cy="832.08" r="3.6" fill="#d42a2c"/>
<circle cx="509.85" cy="827.97" r="3.6" fill="#d42a2c"/>
<line x1="389.50" y1="843.96" x2="389.50" y2="850.81" stroke="#000000" stroke-width="1.8" />
<line x1="382.50" y1="843.96" x2="396.50" y2="843.96" stroke="#000000" stroke-width="1.8" />
<line x1="382.50" y1="850.81" x2="396.50" y2="850.81" stroke="#000000" stroke-width="1.8" />
<line x1="429.60" y1="853.09" x2="429.60" y2="859.95" stroke="#ff2804" stroke-width="1.8" />
<line x1="422.60" y1="853.09" x2="436.60" y2="853.09" stroke="#ff2804" stroke-width="1.8" />
<line x1="422.60" y1="859.95" x2="436.60" y2="859.95" stroke="#ff2804" stroke-width="1.8" />
<line x1="468.30" y1="794.85" x2="468.30" y2="810.84" stroke="#1020b8" stroke-width="1.8" />
<line x1="461.30" y1="794.85" x2="475.30" y2="794.85" stroke="#1020b8" stroke-width="1.8" />
<line x1="461.30" y1="810.84" x2="475.30" y2="810.84" stroke="#1020b8" stroke-width="1.8" />
<line x1="508.20" y1="819.98" x2="508.20" y2="826.83" stroke="#d42a2c" stroke-width="1.8" />
<line x1="501.20" y1="819.98" x2="515.20" y2="819.98" stroke="#d42a2c" stroke-width="1.8" />
<line x1="501.20" y1="826.83" x2="515.20" y2="826.83" stroke="#d42a2c" stroke-width="1.8" />
<line x1="363.30" y1="729.80" x2="363.30" y2="903.30" stroke="#000" stroke-width="2.2" />
<line x1="362.20" y1="902.20" x2="534.00" y2="902.20" stroke="#000" stroke-width="2.2" />
<line x1="355.90" y1="902.20" x2="363.30" y2="902.20" stroke="#000" stroke-width="2.2" />
<text x="354.20" y="906.74" font-size="12.8" font-weight="bold" stroke="#000" stroke-width="0.43" text-anchor="end" fill="#000" >0.0</text>
<line x1="355.90" y1="845.10" x2="363.30" y2="845.10" stroke="#000" stroke-width="2.2" />
<text x="354.20" y="849.64" font-size="12.8" font-weight="bold" stroke="#000" stroke-width="0.43" text-anchor="end" fill="#000" >0.5</text>
<line x1="355.90" y1="788.00" x2="363.30" y2="788.00" stroke="#000" stroke-width="2.2" />
<text x="354.20" y="792.54" font-size="12.8" font-weight="bold" stroke="#000" stroke-width="0.43" text-anchor="end" fill="#000" >1.0</text>
<line x1="355.90" y1="730.90" x2="363.30" y2="730.90" stroke="#000" stroke-width="2.2" />
<text x="354.20" y="735.44" font-size="12.8" font-weight="bold" stroke="#000" stroke-width="0.43" text-anchor="end" fill="#000" >1.5</text>
<line x1="389.50" y1="902.20" x2="389.50" y2="909.70" stroke="#000" stroke-width="2.2" />
<line x1="429.60" y1="902.20" x2="429.60" y2="909.70" stroke="#000" stroke-width="2.2" />
<line x1="468.30" y1="902.20" x2="468.30" y2="909.70" stroke="#000" stroke-width="2.2" />
<line x1="508.20" y1="902.20" x2="508.20" y2="909.70" stroke="#000" stroke-width="2.2" />
<text x="392.60" y="918.50" font-size="12.6" font-weight="bold" stroke="#000" stroke-width="0.42" text-anchor="end" fill="#000" transform="rotate(-45 392.60 918.50)">SD</text>
<text x="432.70" y="918.50" font-size="12.6" font-weight="bold" stroke="#000" stroke-width="0.42" text-anchor="end" fill="#000" transform="rotate(-45 432.70 918.50)">SD+GLN</text>
<text x="471.40" y="918.50" font-size="12.6" font-weight="bold" stroke="#000" stroke-width="0.42" text-anchor="end" fill="#000" transform="rotate(-45 471.40 918.50)">HFD</text>
<text x="511.30" y="918.50" font-size="12.6" font-weight="bold" stroke="#000" stroke-width="0.42" text-anchor="end" fill="#000" transform="rotate(-45 511.30 918.50)">HFD+GLN</text>
<text x="0.00" y="0.00" font-size="13.9" font-weight="bold" stroke="#000" stroke-width="0.46" text-anchor="middle" fill="#000" transform="translate(325.61 816.00) rotate(-90)">Serum LDL (mmol/L)</text>
<text x="317.30" y="702.80" font-size="14" stroke="#000" stroke-width="0.18" text-anchor="middle" fill="#000" >k</text>
<text x="467.70" y="739.64" font-size="14.6" font-weight="bold" stroke="#000" stroke-width="0.49" text-anchor="middle" fill="#000" >***</text>
<text x="508.20" y="738.33" font-size="14" font-weight="bold" stroke="#000" stroke-width="0.47" text-anchor="middle" fill="#000" >**</text>
<text x="508.20" y="742.84" font-size="9.8" font-weight="bold" stroke="#000" stroke-width="0.33" text-anchor="middle" fill="#000" >##</text>
<path d="M615.45 901.20 L615.45 811.77 L638.95 811.77 L638.95 901.20" fill="#fff" stroke="#000000" stroke-width="2.9"/>
<path d="M653.85 901.20 L653.85 825.97 L677.35 825.97 L677.35 901.20" fill="#fff" stroke="#ff2804" stroke-width="2.9"/>
<path d="M694.05 901.20 L694.05 837.33 L717.55 837.33 L717.55 901.20" fill="#fff" stroke="#1020b8" stroke-width="2.9"/>
<path d="M733.75 901.20 L733.75 835.20 L757.25 835.20 L757.25 901.20" fill="#fff" stroke="#d42a2c" stroke-width="2.9"/>
<circle cx="627.21" cy="753.65" r="3.6" fill="#000000"/>
<circle cx="627.21" cy="785.94" r="3.6" fill="#000000"/>
<circle cx="617.34" cy="796.22" r="3.6" fill="#000000"/>
<circle cx="627.21" cy="801.98" r="3.6" fill="#000000"/>
<circle cx="617.34" cy="822.13" r="3.6" fill="#000000"/>
<circle cx="627.21" cy="820.49" r="3.6" fill="#000000"/>
<circle cx="636.88" cy="825.01" r="3.6" fill="#000000"/>
<circle cx="627.21" cy="831.80" r="3.6" fill="#000000"/>
<circle cx="627.21" cy="846.20" r="3.6" fill="#000000"/>
<circle cx="635.85" cy="816.38" r="3.6" fill="#000000"/>
<circle cx="663.61" cy="799.92" r="3.6" fill="#ff2804"/>
<circle cx="670.40" cy="804.45" r="3.6" fill="#ff2804"/>
<circle cx="663.61" cy="810.21" r="3.6" fill="#ff2804"/>
<circle cx="663.61" cy="820.49" r="3.6" fill="#ff2804"/>
<circle cx="670.40" cy="824.19" r="3.6" fill="#ff2804"/>
<circle cx="663.61" cy="829.74" r="3.6" fill="#ff2804"/>
<circle cx="657.44" cy="837.97" r="3.6" fill="#ff2804"/>
<circle cx="663.61" cy="837.35" r="3.6" fill="#ff2804"/>
<circle cx="670.40" cy="837.97" r="3.6" fill="#ff2804"/>
<circle cx="675.95" cy="837.97" r="3.6" fill="#ff2804"/>
<circle cx="709.47" cy="824.60" r="3.6" fill="#1020b8"/>
<circle cx="705.77" cy="828.30" r="3.6" fill="#1020b8"/>
<circle cx="696.52" cy="832.21" r="3.6" fill="#1020b8"/>
<circle cx="701.66" cy="834.88" r="3.6" fill="#1020b8"/>
<circle cx="708.86" cy="836.94" r="3.6" fill="#1020b8"/>
<circle cx="716.05" cy="837.35" r="3.6" fill="#1020b8"/>
<circle cx="698.57" cy="836.94" r="3.6" fill="#1020b8"/>
<circle cx="705.77" cy="848.25" r="3.6" fill="#1020b8"/>
<circle cx="702.69" cy="837.97" r="3.6" fill="#1020b8"/>
<circle cx="745.87" cy="820.49" r="3.6" fill="#d42a2c"/>
<circle cx="736.62" cy="829.74" r="3.6" fill="#d42a2c"/>
<circle cx="741.76" cy="830.77" r="3.6" fill="#d42a2c"/>
<circle cx="748.96" cy="830.77" r="3.6" fill="#d42a2c"/>
<circle cx="755.13" cy="827.69" r="3.6" fill="#d42a2c"/>
<circle cx="751.02" cy="833.86" r="3.6" fill="#d42a2c"/>
<circle cx="745.87" cy="836.94" r="3.6" fill="#d42a2c"/>
<circle cx="740.73" cy="844.14" r="3.6" fill="#d42a2c"/>
<circle cx="751.02" cy="843.11" r="3.6" fill="#d42a2c"/>
<circle cx="745.87" cy="841.05" r="3.6" fill="#d42a2c"/>
<line x1="627.20" y1="802.01" x2="627.20" y2="818.63" stroke="#000000" stroke-width="1.8" />
<line x1="620.20" y1="802.01" x2="634.20" y2="802.01" stroke="#000000" stroke-width="1.8" />
<line x1="620.20" y1="818.63" x2="634.20" y2="818.63" stroke="#000000" stroke-width="1.8" />
<line x1="665.60" y1="819.55" x2="665.60" y2="829.49" stroke="#ff2804" stroke-width="1.8" />
<line x1="658.60" y1="819.55" x2="672.60" y2="819.55" stroke="#ff2804" stroke-width="1.8" />
<line x1="658.60" y1="829.49" x2="672.60" y2="829.49" stroke="#ff2804" stroke-width="1.8" />
<line x1="705.80" y1="833.75" x2="705.80" y2="838.01" stroke="#1020b8" stroke-width="1.8" />
<line x1="698.80" y1="833.75" x2="712.80" y2="833.75" stroke="#1020b8" stroke-width="1.8" />
<line x1="698.80" y1="838.01" x2="712.80" y2="838.01" stroke="#1020b8" stroke-width="1.8" />
<line x1="745.50" y1="830.91" x2="745.50" y2="836.59" stroke="#d42a2c" stroke-width="1.8" />
<line x1="738.50" y1="830.91" x2="752.50" y2="830.91" stroke="#d42a2c" stroke-width="1.8" />
<line x1="738.50" y1="836.59" x2="752.50" y2="836.59" stroke="#d42a2c" stroke-width="1.8" />
<line x1="601.20" y1="729.70" x2="601.20" y2="902.30" stroke="#000" stroke-width="2.2" />
<line x1="600.10" y1="901.20" x2="771.90" y2="901.20" stroke="#000" stroke-width="2.2" />
<line x1="593.80" y1="901.20" x2="601.20" y2="901.20" stroke="#000" stroke-width="2.2" />
<text x="592.10" y="905.74" font-size="12.8" font-weight="bold" stroke="#000" stroke-width="0.43" text-anchor="end" fill="#000" >0</text>
<line x1="593.80" y1="858.60" x2="601.20" y2="858.60" stroke="#000" stroke-width="2.2" />
<text x="592.10" y="863.14" font-size="12.8" font-weight="bold" stroke="#000" stroke-width="0.43" text-anchor="end" fill="#000" >6</text>
<line x1="593.80" y1="816.00" x2="601.20" y2="816.00" stroke="#000" stroke-width="2.2" />
<text x="592.10" y="820.54" font-size="12.8" font-weight="bold" stroke="#000" stroke-width="0.43" text-anchor="end" fill="#000" >12</text>
<line x1="593.80" y1="773.40" x2="601.20" y2="773.40" stroke="#000" stroke-width="2.2" />
<text x="592.10" y="777.94" font-size="12.8" font-weight="bold" stroke="#000" stroke-width="0.43" text-anchor="end" fill="#000" >18</text>
<line x1="593.80" y1="730.80" x2="601.20" y2="730.80" stroke="#000" stroke-width="2.2" />
<text x="592.10" y="735.34" font-size="12.8" font-weight="bold" stroke="#000" stroke-width="0.43" text-anchor="end" fill="#000" >24</text>
<line x1="627.20" y1="901.20" x2="627.20" y2="908.70" stroke="#000" stroke-width="2.2" />
<line x1="665.60" y1="901.20" x2="665.60" y2="908.70" stroke="#000" stroke-width="2.2" />
<line x1="705.80" y1="901.20" x2="705.80" y2="908.70" stroke="#000" stroke-width="2.2" />
<line x1="745.50" y1="901.20" x2="745.50" y2="908.70" stroke="#000" stroke-width="2.2" />
<text x="630.30" y="917.90" font-size="12.8" font-weight="bold" stroke="#000" stroke-width="0.43" text-anchor="end" fill="#000" transform="rotate(-45 630.30 917.90)">SD</text>
<text x="668.70" y="917.90" font-size="12.8" font-weight="bold" stroke="#000" stroke-width="0.43" text-anchor="end" fill="#000" transform="rotate(-45 668.70 917.90)">SD+GLN</text>
<text x="708.90" y="917.90" font-size="12.8" font-weight="bold" stroke="#000" stroke-width="0.43" text-anchor="end" fill="#000" transform="rotate(-45 708.90 917.90)">HFD</text>
<text x="748.60" y="917.90" font-size="12.8" font-weight="bold" stroke="#000" stroke-width="0.43" text-anchor="end" fill="#000" transform="rotate(-45 748.60 917.90)">HFD+GLN</text>
<text x="0.00" y="0.00" font-size="13.7" font-weight="bold" stroke="#000" stroke-width="0.46" text-anchor="middle" fill="#000" transform="translate(568.06 815.50) rotate(-90)">Serum UREA (mmol/L)</text>
<text x="552.20" y="702.00" font-size="14" stroke="#000" stroke-width="0.18" text-anchor="middle" fill="#000" >l</text>
<text x="705.80" y="747.44" font-size="14.2" font-weight="bold" stroke="#000" stroke-width="0.47" text-anchor="middle" fill="#000" >**</text>
<text x="748.30" y="746.64" font-size="14.6" font-weight="bold" stroke="#000" stroke-width="0.49" text-anchor="middle" fill="#000" >**</text>
<path d="M125.75 1171.60 L125.75 1102.16 L148.85 1102.16 L148.85 1171.60" fill="#fff" stroke="#000000" stroke-width="2.9"/>
<path d="M165.05 1171.60 L165.05 1121.93 L188.15 1121.93 L188.15 1171.60" fill="#fff" stroke="#ff2804" stroke-width="2.9"/>
<path d="M203.95 1171.60 L203.95 1072.17 L227.05 1072.17 L227.05 1171.60" fill="#fff" stroke="#1020b8" stroke-width="2.9"/>
<path d="M243.35 1171.60 L243.35 1061.95 L266.45 1061.95 L266.45 1171.60" fill="#fff" stroke="#d42a2c" stroke-width="2.9"/>
<circle cx="137.29" cy="1035.40" r="3.6" fill="#000000"/>
<circle cx="147.12" cy="1032.78" r="3.6" fill="#000000"/>
<circle cx="137.29" cy="1087.41" r="3.6" fill="#000000"/>
<circle cx="127.02" cy="1105.79" r="3.6" fill="#000000"/>
<circle cx="147.34" cy="1105.79" r="3.6" fill="#000000"/>
<circle cx="137.29" cy="1112.34" r="3.6" fill="#000000"/>
<circle cx="132.48" cy="1121.52" r="3.6" fill="#000000"/>
<circle cx="142.32" cy="1119.34" r="3.6" fill="#000000"/>
<circle cx="132.48" cy="1144.47" r="3.6" fill="#000000"/>
<circle cx="142.32" cy="1142.94" r="3.6" fill="#000000"/>
<circle cx="171.38" cy="1100.76" r="3.6" fill="#ff2804"/>
<circle cx="176.63" cy="1105.79" r="3.6" fill="#ff2804"/>
<circle cx="180.56" cy="1118.24" r="3.6" fill="#ff2804"/>
<circle cx="174.00" cy="1120.43" r="3.6" fill="#ff2804"/>
<circle cx="167.45" cy="1122.61" r="3.6" fill="#ff2804"/>
<circle cx="186.02" cy="1122.61" r="3.6" fill="#ff2804"/>
<circle cx="178.37" cy="1124.80" r="3.6" fill="#ff2804"/>
<circle cx="167.45" cy="1129.83" r="3.6" fill="#ff2804"/>
<circle cx="176.19" cy="1129.17" r="3.6" fill="#ff2804"/>
<circle cx="186.02" cy="1132.01" r="3.6" fill="#ff2804"/>
<circle cx="215.52" cy="1027.97" r="3.6" fill="#1020b8"/>
<circle cx="205.69" cy="1039.77" r="3.6" fill="#1020b8"/>
<circle cx="215.52" cy="1042.83" r="3.6" fill="#1020b8"/>
<circle cx="225.36" cy="1036.71" r="3.6" fill="#1020b8"/>
<circle cx="215.52" cy="1062.28" r="3.6" fill="#1020b8"/>
<circle cx="205.69" cy="1087.41" r="3.6" fill="#1020b8"/>
<circle cx="215.52" cy="1092.88" r="3.6" fill="#1020b8"/>
<circle cx="215.52" cy="1100.96" r="3.6" fill="#1020b8"/>
<circle cx="225.36" cy="1106.64" r="3.6" fill="#1020b8"/>
<circle cx="205.69" cy="1111.01" r="3.6" fill="#1020b8"/>
<circle cx="254.86" cy="1041.52" r="3.6" fill="#d42a2c"/>
<circle cx="251.58" cy="1048.51" r="3.6" fill="#d42a2c"/>
<circle cx="245.03" cy="1054.63" r="3.6" fill="#d42a2c"/>
<circle cx="258.14" cy="1054.63" r="3.6" fill="#d42a2c"/>
<circle cx="264.69" cy="1059.00" r="3.6" fill="#d42a2c"/>
<circle cx="249.40" cy="1060.10" r="3.6" fill="#d42a2c"/>
<circle cx="254.86" cy="1060.10" r="3.6" fill="#d42a2c"/>
<circle cx="245.03" cy="1073.21" r="3.6" fill="#d42a2c"/>
<circle cx="258.14" cy="1069.93" r="3.6" fill="#d42a2c"/>
<circle cx="264.69" cy="1069.93" r="3.6" fill="#d42a2c"/>
<line x1="137.30" y1="1088.79" x2="137.30" y2="1112.64" stroke="#000000" stroke-width="1.8" />
<line x1="130.30" y1="1088.79" x2="144.30" y2="1088.79" stroke="#000000" stroke-width="1.8" />
<line x1="130.30" y1="1112.64" x2="144.30" y2="1112.64" stroke="#000000" stroke-width="1.8" />
<line x1="176.60" y1="1117.07" x2="176.60" y2="1123.89" stroke="#ff2804" stroke-width="1.8" />
<line x1="169.60" y1="1117.07" x2="183.60" y2="1117.07" stroke="#ff2804" stroke-width="1.8" />
<line x1="169.60" y1="1123.89" x2="183.60" y2="1123.89" stroke="#ff2804" stroke-width="1.8" />
<line x1="215.50" y1="1061.86" x2="215.50" y2="1079.58" stroke="#1020b8" stroke-width="1.8" />
<line x1="208.50" y1="1061.86" x2="222.50" y2="1061.86" stroke="#1020b8" stroke-width="1.8" />
<line x1="208.50" y1="1079.58" x2="222.50" y2="1079.58" stroke="#1020b8" stroke-width="1.8" />
<line x1="254.90" y1="1056.41" x2="254.90" y2="1064.59" stroke="#d42a2c" stroke-width="1.8" />
<line x1="247.90" y1="1056.41" x2="261.90" y2="1056.41" stroke="#d42a2c" stroke-width="1.8" />
<line x1="247.90" y1="1064.59" x2="261.90" y2="1064.59" stroke="#d42a2c" stroke-width="1.8" />
<line x1="111.00" y1="1000.10" x2="111.00" y2="1172.70" stroke="#000" stroke-width="2.2" />
<line x1="109.90" y1="1171.60" x2="279.50" y2="1171.60" stroke="#000" stroke-width="2.2" />
<line x1="103.60" y1="1171.60" x2="111.00" y2="1171.60" stroke="#000" stroke-width="2.2" />
<text x="101.90" y="1176.21" font-size="13" font-weight="bold" stroke="#000" stroke-width="0.43" text-anchor="end" fill="#000" >0</text>
<line x1="103.60" y1="1137.52" x2="111.00" y2="1137.52" stroke="#000" stroke-width="2.2" />
<text x="101.90" y="1142.13" font-size="13" font-weight="bold" stroke="#000" stroke-width="0.43" text-anchor="end" fill="#000" >10</text>
<line x1="103.60" y1="1103.44" x2="111.00" y2="1103.44" stroke="#000" stroke-width="2.2" />
<text x="101.90" y="1108.06" font-size="13" font-weight="bold" stroke="#000" stroke-width="0.43" text-anchor="end" fill="#000" >20</text>
<line x1="103.60" y1="1069.36" x2="111.00" y2="1069.36" stroke="#000" stroke-width="2.2" />
<text x="101.90" y="1073.97" font-size="13" font-weight="bold" stroke="#000" stroke-width="0.43" text-anchor="end" fill="#000" >30</text>
<line x1="103.60" y1="1035.28" x2="111.00" y2="1035.28" stroke="#000" stroke-width="2.2" />
<text x="101.90" y="1039.89" font-size="13" font-weight="bold" stroke="#000" stroke-width="0.43" text-anchor="end" fill="#000" >40</text>
<line x1="103.60" y1="1001.20" x2="111.00" y2="1001.20" stroke="#000" stroke-width="2.2" />
<text x="101.90" y="1005.82" font-size="13" font-weight="bold" stroke="#000" stroke-width="0.43" text-anchor="end" fill="#000" >50</text>
<line x1="137.30" y1="1171.60" x2="137.30" y2="1179.10" stroke="#000" stroke-width="2.2" />
<line x1="176.60" y1="1171.60" x2="176.60" y2="1179.10" stroke="#000" stroke-width="2.2" />
<line x1="215.50" y1="1171.60" x2="215.50" y2="1179.10" stroke="#000" stroke-width="2.2" />
<line x1="254.90" y1="1171.60" x2="254.90" y2="1179.10" stroke="#000" stroke-width="2.2" />
<text x="140.40" y="1188.40" font-size="13" font-weight="bold" font-style="italic" stroke="#000" stroke-width="0.43" text-anchor="end" fill="#000" transform="rotate(-45 140.40 1188.40)">SD</text>
<text x="179.70" y="1188.40" font-size="13" font-weight="bold" font-style="italic" stroke="#000" stroke-width="0.43" text-anchor="end" fill="#000" transform="rotate(-45 179.70 1188.40)">SD+GLN</text>
<text x="218.60" y="1188.40" font-size="13" font-weight="bold" font-style="italic" stroke="#000" stroke-width="0.43" text-anchor="end" fill="#000" transform="rotate(-45 218.60 1188.40)">HFD</text>
<text x="258.00" y="1188.40" font-size="13" font-weight="bold" font-style="italic" stroke="#000" stroke-width="0.43" text-anchor="end" fill="#000" transform="rotate(-45 258.00 1188.40)">HFD+GLN</text>
<text x="0.00" y="0.00" font-size="14.2" font-weight="bold" stroke="#000" stroke-width="0.47" text-anchor="middle" fill="#000" transform="translate(73.69 1091.70) rotate(-90)">Serum  AST (U/L)</text>
<text x="51.40" y="976.80" font-size="14" stroke="#000" stroke-width="0.18" text-anchor="middle" fill="#000" >m</text>
<text x="217.00" y="1010.43" font-size="13" font-weight="bold" stroke="#000" stroke-width="0.43" text-anchor="middle" fill="#000" >*</text>
<text x="252.70" y="1010.93" font-size="14" font-weight="bold" stroke="#000" stroke-width="0.47" text-anchor="middle" fill="#000" >**</text>
<path d="M380.00 1171.60 L380.00 1132.96 L403.20 1132.96 L403.20 1171.60" fill="#fff" stroke="#000000" stroke-width="2.9"/>
<path d="M419.10 1171.60 L419.10 1141.49 L442.30 1141.49 L442.30 1171.60" fill="#fff" stroke="#ff2804" stroke-width="2.9"/>
<path d="M458.10 1171.60 L458.10 1063.87 L481.30 1063.87 L481.30 1171.60" fill="#fff" stroke="#1020b8" stroke-width="2.9"/>
<path d="M497.20 1171.60 L497.20 1052.78 L520.40 1052.78 L520.40 1171.60" fill="#fff" stroke="#d42a2c" stroke-width="2.9"/>
<circle cx="391.59" cy="1112.21" r="3.6" fill="#000000"/>
<circle cx="382.34" cy="1127.43" r="3.6" fill="#000000"/>
<circle cx="389.54" cy="1128.66" r="3.6" fill="#000000"/>
<circle cx="400.85" cy="1127.43" r="3.6" fill="#000000"/>
<circle cx="382.34" cy="1134.22" r="3.6" fill="#000000"/>
<circle cx="389.54" cy="1135.24" r="3.6" fill="#000000"/>
<circle cx="396.74" cy="1134.22" r="3.6" fill="#000000"/>
<circle cx="382.34" cy="1139.36" r="3.6" fill="#000000"/>
<circle cx="389.54" cy="1137.30" r="3.6" fill="#000000"/>
<circle cx="397.76" cy="1140.39" r="3.6" fill="#000000"/>
<circle cx="421.41" cy="1136.27" r="3.6" fill="#ff2804"/>
<circle cx="427.58" cy="1135.24" r="3.6" fill="#ff2804"/>
<circle cx="433.75" cy="1132.78" r="3.6" fill="#ff2804"/>
<circle cx="440.33" cy="1130.31" r="3.6" fill="#ff2804"/>
<circle cx="440.33" cy="1139.36" r="3.6" fill="#ff2804"/>
<circle cx="433.75" cy="1142.44" r="3.6" fill="#ff2804"/>
<circle cx="421.41" cy="1144.50" r="3.6" fill="#ff2804"/>
<circle cx="440.33" cy="1147.17" r="3.6" fill="#ff2804"/>
<circle cx="433.75" cy="1151.29" r="3.6" fill="#ff2804"/>
<circle cx="421.41" cy="1154.16" r="3.6" fill="#ff2804"/>
<circle cx="460.49" cy="1038.05" r="3.6" fill="#1020b8"/>
<circle cx="469.74" cy="1034.55" r="3.6" fill="#1020b8"/>
<circle cx="479.41" cy="1034.55" r="3.6" fill="#1020b8"/>
<circle cx="479.41" cy="1043.60" r="3.6" fill="#1020b8"/>
<circle cx="469.74" cy="1048.33" r="3.6" fill="#1020b8"/>
<circle cx="465.01" cy="1060.05" r="3.6" fill="#1020b8"/>
<circle cx="474.47" cy="1063.75" r="3.6" fill="#1020b8"/>
<circle cx="469.74" cy="1094.60" r="3.6" fill="#1020b8"/>
<circle cx="465.01" cy="1105.30" r="3.6" fill="#1020b8"/>
<circle cx="474.47" cy="1101.80" r="3.6" fill="#1020b8"/>
<circle cx="505.73" cy="1017.48" r="3.6" fill="#d42a2c"/>
<circle cx="511.90" cy="1020.57" r="3.6" fill="#d42a2c"/>
<circle cx="505.73" cy="1039.07" r="3.6" fill="#d42a2c"/>
<circle cx="511.90" cy="1039.07" r="3.6" fill="#d42a2c"/>
<circle cx="505.73" cy="1055.12" r="3.6" fill="#d42a2c"/>
<circle cx="511.90" cy="1054.50" r="3.6" fill="#d42a2c"/>
<circle cx="499.56" cy="1075.06" r="3.6" fill="#d42a2c"/>
<circle cx="505.73" cy="1070.95" r="3.6" fill="#d42a2c"/>
<circle cx="511.90" cy="1074.04" r="3.6" fill="#d42a2c"/>
<circle cx="518.07" cy="1073.62" r="3.6" fill="#d42a2c"/>
<line x1="391.60" y1="1128.95" x2="391.60" y2="1134.07" stroke="#000000" stroke-width="1.8" />
<line x1="384.60" y1="1128.95" x2="398.60" y2="1128.95" stroke="#000000" stroke-width="1.8" />
<line x1="384.60" y1="1134.07" x2="398.60" y2="1134.07" stroke="#000000" stroke-width="1.8" />
<line x1="430.70" y1="1137.48" x2="430.70" y2="1142.60" stroke="#ff2804" stroke-width="1.8" />
<line x1="423.70" y1="1137.48" x2="437.70" y2="1137.48" stroke="#ff2804" stroke-width="1.8" />
<line x1="423.70" y1="1142.60" x2="437.70" y2="1142.60" stroke="#ff2804" stroke-width="1.8" />
<line x1="469.70" y1="1053.89" x2="469.70" y2="1070.95" stroke="#1020b8" stroke-width="1.8" />
<line x1="462.70" y1="1053.89" x2="476.70" y2="1053.89" stroke="#1020b8" stroke-width="1.8" />
<line x1="462.70" y1="1070.95" x2="476.70" y2="1070.95" stroke="#1020b8" stroke-width="1.8" />
<line x1="508.80" y1="1044.50" x2="508.80" y2="1058.15" stroke="#d42a2c" stroke-width="1.8" />
<line x1="501.80" y1="1044.50" x2="515.80" y2="1044.50" stroke="#d42a2c" stroke-width="1.8" />
<line x1="501.80" y1="1058.15" x2="515.80" y2="1058.15" stroke="#d42a2c" stroke-width="1.8" />
<line x1="366.20" y1="999.90" x2="366.20" y2="1172.70" stroke="#000" stroke-width="2.2" />
<line x1="365.10" y1="1171.60" x2="532.60" y2="1171.60" stroke="#000" stroke-width="2.2" />
<line x1="358.80" y1="1171.60" x2="366.20" y2="1171.60" stroke="#000" stroke-width="2.2" />
<text x="357.10" y="1176.21" font-size="13" font-weight="bold" stroke="#000" stroke-width="0.43" text-anchor="end" fill="#000" >0</text>
<line x1="358.80" y1="1086.30" x2="366.20" y2="1086.30" stroke="#000" stroke-width="2.2" />
<text x="357.10" y="1090.91" font-size="13" font-weight="bold" stroke="#000" stroke-width="0.43" text-anchor="end" fill="#000" >10</text>
<line x1="358.80" y1="1001.00" x2="366.20" y2="1001.00" stroke="#000" stroke-width="2.2" />
<text x="357.10" y="1005.62" font-size="13" font-weight="bold" stroke="#000" stroke-width="0.43" text-anchor="end" fill="#000" >20</text>
<line x1="391.60" y1="1171.60" x2="391.60" y2="1179.10" stroke="#000" stroke-width="2.2" />
<line x1="430.70" y1="1171.60" x2="430.70" y2="1179.10" stroke="#000" stroke-width="2.2" />
<line x1="469.70" y1="1171.60" x2="469.70" y2="1179.10" stroke="#000" stroke-width="2.2" />
<line x1="508.80" y1="1171.60" x2="508.80" y2="1179.10" stroke="#000" stroke-width="2.2" />
<text x="394.70" y="1188.50" font-size="12.9" font-weight="bold" font-style="italic" stroke="#000" stroke-width="0.43" text-anchor="end" fill="#000" transform="rotate(-45 394.70 1188.50)">SD</text>
<text x="433.80" y="1188.50" font-size="12.9" font-weight="bold" font-style="italic" stroke="#000" stroke-width="0.43" text-anchor="end" fill="#000" transform="rotate(-45 433.80 1188.50)">SD+GLN</text>
<text x="472.80" y="1188.50" font-size="12.9" font-weight="bold" font-style="italic" stroke="#000" stroke-width="0.43" text-anchor="end" fill="#000" transform="rotate(-45 472.80 1188.50)">HFD</text>
<text x="511.90" y="1188.50" font-size="12.9" font-weight="bold" font-style="italic" stroke="#000" stroke-width="0.43" text-anchor="end" fill="#000" transform="rotate(-45 511.90 1188.50)">HFD+GLN</text>
<text x="0.00" y="0.00" font-size="14.0" font-weight="bold" stroke="#000" stroke-width="0.47" text-anchor="middle" fill="#000" transform="translate(327.34 1090.00) rotate(-90)">Serum  ALT (U/L)</text>
<text x="313.10" y="983.10" font-size="14" stroke="#000" stroke-width="0.18" text-anchor="middle" fill="#000" >n</text>
<text x="470.40" y="1011.53" font-size="14" font-weight="bold" stroke="#000" stroke-width="0.47" text-anchor="middle" fill="#000" >**</text>
<text x="506.80" y="1011.53" font-size="14" font-weight="bold" stroke="#000" stroke-width="0.47" text-anchor="middle" fill="#000" >**</text>
<path d="M618.60 1177.00 L618.60 1059.40 L641.80 1059.40 L641.80 1177.00" fill="#fff" stroke="#000000" stroke-width="2.9"/>
<path d="M658.10 1177.00 L658.10 1060.25 L681.30 1060.25 L681.30 1177.00" fill="#fff" stroke="#ff2804" stroke-width="2.9"/>
<path d="M697.20 1177.00 L697.20 1074.81 L720.40 1074.81 L720.40 1177.00" fill="#fff" stroke="#1020b8" stroke-width="2.9"/>
<path d="M735.80 1177.00 L735.80 1064.54 L759.00 1064.54 L759.00 1177.00" fill="#fff" stroke="#d42a2c" stroke-width="2.9"/>
<circle cx="620.34" cy="1053.32" r="3.6" fill="#000000"/>
<circle cx="625.48" cy="1053.93" r="3.6" fill="#000000"/>
<circle cx="629.59" cy="1052.90" r="3.6" fill="#000000"/>
<circle cx="634.74" cy="1054.96" r="3.6" fill="#000000"/>
<circle cx="639.88" cy="1054.96" r="3.6" fill="#000000"/>
<circle cx="620.34" cy="1055.99" r="3.6" fill="#000000"/>
<circle cx="626.51" cy="1060.10" r="3.6" fill="#000000"/>
<circle cx="630.62" cy="1065.24" r="3.6" fill="#000000"/>
<circle cx="628.57" cy="1068.33" r="3.6" fill="#000000"/>
<circle cx="636.79" cy="1056.61" r="3.6" fill="#000000"/>
<circle cx="659.83" cy="1045.09" r="3.6" fill="#ff2804"/>
<circle cx="666.61" cy="1043.03" r="3.6" fill="#ff2804"/>
<circle cx="673.40" cy="1043.03" r="3.6" fill="#ff2804"/>
<circle cx="679.57" cy="1043.65" r="3.6" fill="#ff2804"/>
<circle cx="666.61" cy="1053.93" r="3.6" fill="#ff2804"/>
<circle cx="673.40" cy="1051.26" r="3.6" fill="#ff2804"/>
<circle cx="669.70" cy="1065.66" r="3.6" fill="#ff2804"/>
<circle cx="663.12" cy="1081.29" r="3.6" fill="#ff2804"/>
<circle cx="669.70" cy="1078.61" r="3.6" fill="#ff2804"/>
<circle cx="675.87" cy="1080.05" r="3.6" fill="#ff2804"/>
<circle cx="706.30" cy="1057.43" r="3.6" fill="#1020b8"/>
<circle cx="710.83" cy="1062.78" r="3.6" fill="#1020b8"/>
<circle cx="704.66" cy="1073.88" r="3.6" fill="#1020b8"/>
<circle cx="709.80" cy="1071.00" r="3.6" fill="#1020b8"/>
<circle cx="713.91" cy="1071.41" r="3.6" fill="#1020b8"/>
<circle cx="719.05" cy="1074.50" r="3.6" fill="#1020b8"/>
<circle cx="699.52" cy="1081.29" r="3.6" fill="#1020b8"/>
<circle cx="708.77" cy="1079.64" r="3.6" fill="#1020b8"/>
<circle cx="714.94" cy="1080.67" r="3.6" fill="#1020b8"/>
<circle cx="719.05" cy="1083.75" r="3.6" fill="#1020b8"/>
<circle cx="746.20" cy="1034.81" r="3.6" fill="#d42a2c"/>
<circle cx="749.90" cy="1041.59" r="3.6" fill="#d42a2c"/>
<circle cx="746.20" cy="1045.09" r="3.6" fill="#d42a2c"/>
<circle cx="747.85" cy="1061.13" r="3.6" fill="#d42a2c"/>
<circle cx="739.62" cy="1072.44" r="3.6" fill="#d42a2c"/>
<circle cx="745.79" cy="1073.88" r="3.6" fill="#d42a2c"/>
<circle cx="751.96" cy="1075.53" r="3.6" fill="#d42a2c"/>
<circle cx="756.07" cy="1073.47" r="3.6" fill="#d42a2c"/>
<circle cx="741.68" cy="1079.64" r="3.6" fill="#d42a2c"/>
<circle cx="751.96" cy="1077.58" r="3.6" fill="#d42a2c"/>
<line x1="630.20" y1="1056.23" x2="630.20" y2="1059.66" stroke="#000000" stroke-width="1.8" />
<line x1="623.20" y1="1056.23" x2="637.20" y2="1056.23" stroke="#000000" stroke-width="1.8" />
<line x1="623.20" y1="1059.66" x2="637.20" y2="1059.66" stroke="#000000" stroke-width="1.8" />
<line x1="669.70" y1="1053.66" x2="669.70" y2="1063.94" stroke="#ff2804" stroke-width="1.8" />
<line x1="662.70" y1="1053.66" x2="676.70" y2="1053.66" stroke="#ff2804" stroke-width="1.8" />
<line x1="662.70" y1="1063.94" x2="676.70" y2="1063.94" stroke="#ff2804" stroke-width="1.8" />
<line x1="708.80" y1="1071.31" x2="708.80" y2="1075.42" stroke="#1020b8" stroke-width="1.8" />
<line x1="701.80" y1="1071.31" x2="715.80" y2="1071.31" stroke="#1020b8" stroke-width="1.8" />
<line x1="701.80" y1="1075.42" x2="715.80" y2="1075.42" stroke="#1020b8" stroke-width="1.8" />
<line x1="747.40" y1="1057.95" x2="747.40" y2="1068.22" stroke="#d42a2c" stroke-width="1.8" />
<line x1="740.40" y1="1057.95" x2="754.40" y2="1057.95" stroke="#d42a2c" stroke-width="1.8" />
<line x1="740.40" y1="1068.22" x2="754.40" y2="1068.22" stroke="#d42a2c" stroke-width="1.8" />
<line x1="604.20" y1="1004.60" x2="604.20" y2="1178.10" stroke="#000" stroke-width="2.2" />
<line x1="603.10" y1="1177.00" x2="774.00" y2="1177.00" stroke="#000" stroke-width="2.2" />
<line x1="596.80" y1="1177.00" x2="604.20" y2="1177.00" stroke="#000" stroke-width="2.2" />
<text x="595.10" y="1181.62" font-size="13" font-weight="bold" stroke="#000" stroke-width="0.43" text-anchor="end" fill="#000" >0.0</text>
<line x1="596.80" y1="1142.74" x2="604.20" y2="1142.74" stroke="#000" stroke-width="2.2" />
<text x="595.10" y="1147.36" font-size="13" font-weight="bold" stroke="#000" stroke-width="0.43" text-anchor="end" fill="#000" >0.2</text>
<line x1="596.80" y1="1108.48" x2="604.20" y2="1108.48" stroke="#000" stroke-width="2.2" />
<text x="595.10" y="1113.10" font-size="13" font-weight="bold" stroke="#000" stroke-width="0.43" text-anchor="end" fill="#000" >0.4</text>
<line x1="596.80" y1="1074.22" x2="604.20" y2="1074.22" stroke="#000" stroke-width="2.2" />
<text x="595.10" y="1078.84" font-size="13" font-weight="bold" stroke="#000" stroke-width="0.43" text-anchor="end" fill="#000" >0.6</text>
<line x1="596.80" y1="1039.96" x2="604.20" y2="1039.96" stroke="#000" stroke-width="2.2" />
<text x="595.10" y="1044.58" font-size="13" font-weight="bold" stroke="#000" stroke-width="0.43" text-anchor="end" fill="#000" >0.8</text>
<line x1="596.80" y1="1005.70" x2="604.20" y2="1005.70" stroke="#000" stroke-width="2.2" />
<text x="595.10" y="1010.32" font-size="13" font-weight="bold" stroke="#000" stroke-width="0.43" text-anchor="end" fill="#000" >1.0</text>
<line x1="630.20" y1="1177.00" x2="630.20" y2="1184.50" stroke="#000" stroke-width="2.2" />
<line x1="669.70" y1="1177.00" x2="669.70" y2="1184.50" stroke="#000" stroke-width="2.2" />
<line x1="708.80" y1="1177.00" x2="708.80" y2="1184.50" stroke="#000" stroke-width="2.2" />
<line x1="747.40" y1="1177.00" x2="747.40" y2="1184.50" stroke="#000" stroke-width="2.2" />
<text x="633.30" y="1194.00" font-size="12.9" font-weight="bold" font-style="italic" stroke="#000" stroke-width="0.43" text-anchor="end" fill="#000" transform="rotate(-45 633.30 1194.00)">SD</text>
<text x="672.80" y="1194.00" font-size="12.9" font-weight="bold" font-style="italic" stroke="#000" stroke-width="0.43" text-anchor="end" fill="#000" transform="rotate(-45 672.80 1194.00)">SD+GLN</text>
<text x="711.90" y="1194.00" font-size="12.9" font-weight="bold" font-style="italic" stroke="#000" stroke-width="0.43" text-anchor="end" fill="#000" transform="rotate(-45 711.90 1194.00)">HFD</text>
<text x="750.50" y="1194.00" font-size="12.9" font-weight="bold" font-style="italic" stroke="#000" stroke-width="0.43" text-anchor="end" fill="#000" transform="rotate(-45 750.50 1194.00)">HFD+GLN</text>
<text x="0.00" y="0.00" font-size="14.0" font-weight="bold" stroke="#000" stroke-width="0.47" text-anchor="middle" fill="#000" transform="translate(566.64 1096.50) rotate(-90)">Serum  Gln (mmol/L)</text>
<text x="564.50" y="987.60" font-size="14" stroke="#000" stroke-width="0.18" text-anchor="middle" fill="#000" >o</text>
<text x="708.20" y="1017.69" font-size="14.7" font-weight="bold" stroke="#000" stroke-width="0.49" text-anchor="middle" fill="#000" >**</text>
<text x="752.00" y="1014.33" font-size="12.6" stroke="#000" stroke-width="0.16" text-anchor="middle" fill="#000" >p=0.09</text>
</svg></body></html>
